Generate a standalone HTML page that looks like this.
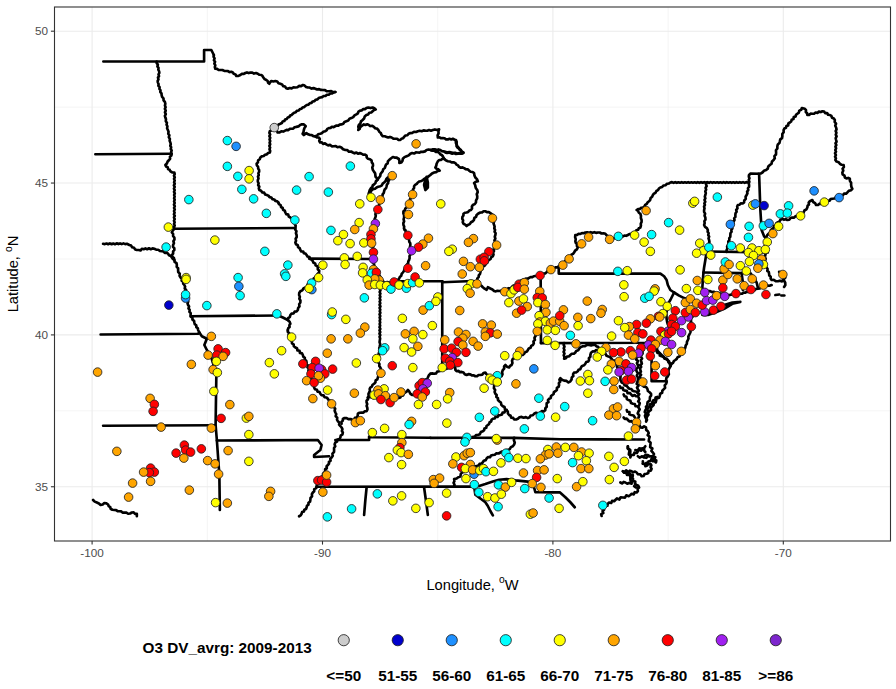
<!DOCTYPE html>
<html><head><meta charset="utf-8"><style>
html,body{margin:0;padding:0;background:#fff;}
svg{display:block;}
.mj{stroke:#EBEBEB;stroke-width:1.1;}
.mn{stroke:#EBEBEB;stroke-width:0.55;}
.st{fill:none;stroke:#000;stroke-width:2.65;stroke-linejoin:round;stroke-linecap:round;}
.pt{stroke:#222;stroke-width:0.85;}
text{font-family:"Liberation Sans",sans-serif;}
.tk{font-size:11.73px;fill:#4D4D4D;}
.ti{font-size:14.67px;fill:#000;}
.lt{font-size:15.3px;font-weight:bold;fill:#000;}
.ll{font-size:15.3px;font-weight:bold;fill:#000;}
</style></head><body>
<svg width="896" height="689" viewBox="0 0 896 689">
<line x1="207.3" y1="7.0" x2="207.3" y2="541.0" class="mn"/>
<line x1="437.7" y1="7.0" x2="437.7" y2="541.0" class="mn"/>
<line x1="668.1" y1="7.0" x2="668.1" y2="541.0" class="mn"/>
<line x1="54.5" y1="410.82" x2="890.5" y2="410.82" class="mn"/>
<line x1="54.5" y1="258.98" x2="890.5" y2="258.98" class="mn"/>
<line x1="54.5" y1="107.12" x2="890.5" y2="107.12" class="mn"/>
<line x1="92.1" y1="7.0" x2="92.1" y2="541.0" class="mj"/>
<line x1="322.5" y1="7.0" x2="322.5" y2="541.0" class="mj"/>
<line x1="552.9" y1="7.0" x2="552.9" y2="541.0" class="mj"/>
<line x1="783.3" y1="7.0" x2="783.3" y2="541.0" class="mj"/>
<line x1="54.5" y1="486.75" x2="890.5" y2="486.75" class="mj"/>
<line x1="54.5" y1="334.9" x2="890.5" y2="334.9" class="mj"/>
<line x1="54.5" y1="183.05" x2="890.5" y2="183.05" class="mj"/>
<line x1="54.5" y1="31.2" x2="890.5" y2="31.2" class="mj"/>
<polyline points="103.35,61.5 204.1,61.5 204.1,50 211.35,50 213.85,55" class="st"/>
<polyline points="213.85,55 213.57,56.77 214.59,58.4 213.94,60.21 215.06,61.82 214.34,63.64 215.29,65.28 214.83,67.07 215.35,68.75 217.09,68.87 218.59,69.97 220.35,70 222.41,69.97 224.31,70.93 226.35,71 228.04,71.08 229.53,72.05 231.3,71.82 232.85,72.5 233.83,73.86 235.5,74.51 236.35,76 238.45,75.89 240.35,75 241.85,73.91 243.79,73.94 245.35,73 246.98,72.43 248.73,73.14 250.35,72.5 252.27,72.56 254.02,73.58 256.04,73.08 257.85,73.75 259.45,74.79 261.35,75 262.56,76.08 263.35,77.5 264.6,79.05 266.35,80 267.65,81.01 268.09,82.71 269.35,83.75 270.15,82.23 271.35,81 273.35,81.46 275.35,81 277.25,81.48 278.47,83.21 280.35,83.75 282.1,84.38 283.12,86.1 285.04,86.47 286.09,88.13 287.85,88.75 289.65,88.01 291.65,88.42 293.41,87.43 295.35,87.5 297.37,87.3 298.99,85.93 301.12,86.06 302.85,85 304.64,85.6 306.06,86.92 307.85,87.5 309.77,87.54 311.53,88.56 313.53,88.1 315.35,88.75 317.15,89.53 319.15,89.1 320.93,89.94 322.85,90 325,90.09 326.92,91.29 329.1,91.25 331.23,91.09 333.23,92.07 335.35,92" class="st"/>
<polyline points="156.6,61.5 156.71,63.2 157.88,64.64 157.39,66.49 158.52,67.93 158.3,69.72 159.1,71.25 159.36,72.91 158.48,74.43 159.03,76.12 157.95,77.63 158.51,79.32 157.66,80.85 157.85,82.5 158.6,83.98 158.36,85.75 159.61,87.08 159.42,88.84 160.5,90.22 160.29,91.99 161.53,93.32 161.6,95 162.1,96.86 163.5,98.33 163.59,100.36 164.87,101.88 165.35,103.75 164.94,105.47 165.63,107.19 164.86,108.91 165.74,110.62 164.95,112.34 165.82,114.06 164.87,115.78 165.35,117.5 165.99,119.23 165.79,121.13 166.91,122.76 166.52,124.69 167.43,126.37 167.07,128.3 167.85,130 168.57,131.71 168.25,133.63 169.38,135.27 168.82,137.23 169.9,138.88 169.62,140.79 170.35,142.5 170.78,144.08 170.26,145.76 171.15,147.29 170.71,148.97 171.67,150.49 171.07,152.18 171.6,153.75 171.38,155.47 169.93,156.71 170.14,158.6 169.1,160 167.64,161.51 166.87,163.53 165.35,165 166.04,166.5 167.72,167.2 168.03,169 169.62,169.79 170.35,171.25 172.2,172.35 174.35,172.5 174.7,174.11 173.93,175.71 174.78,177.32 174.01,178.93 174.74,180.54 174.09,182.14 174.75,183.75 173.85,185.36 174.72,186.96 173.93,188.57 174.7,190.18 174,191.79 174.82,193.39 174.09,195 174.7,196.61 174.09,198.21 174.7,199.82 174.07,201.43 174.72,203.04 173.94,204.64 174.81,206.25 174.05,207.86 174.78,209.46 173.99,211.07 174.64,212.68 173.91,214.29 174.82,215.89 173.92,217.5 174.72,219.11 173.94,220.71 174.66,222.32 174.02,223.93 174.73,225.54 173.98,227.14 174.35,228.75" class="st"/>
<polyline points="95.35,154.25 171.6,153.75" class="st"/>
<polyline points="335.35,92 333.6,92.39 332.1,93.46 330.23,93.5 328.78,94.71 326.89,94.71 325.48,96.02 323.59,96.02 322.12,97.17 320.35,97.5 318.69,98.06 317.46,99.4 315.7,99.78 314.45,101.08 312.67,101.43 311.5,102.86 309.73,103.24 308.54,104.64 306.74,104.95 305.35,106 304.12,107.12 302.44,107.5 301.32,108.8 299.68,109.27 298.54,110.52 296.81,110.83 295.77,112.26 294.11,112.68 292.85,113.75 291.73,114.92 290.16,115.51 289.31,117.01 287.71,117.57 286.74,118.93 285.13,119.48 284.32,121.03 282.63,121.47 281.84,123.05 280.35,123.75 278.62,124.41 277.35,125.83 275.51,126.31 274.1,127.5" class="st"/>
<polyline points="274.1,127.5 272.46,128.49 271.57,130.34 269.85,131.25 269.36,132.88 270.18,134.52 269.36,136.15 270.24,137.79 269.54,139.42 270.22,141.06 269.59,142.69 270.2,144.33 269.36,145.96 270.12,147.6 269.47,149.23 270.17,150.87 269.85,152.5 268.09,152.99 266.8,154.39 264.95,154.71 263.64,156.06 261.77,156.37 260.35,157.5 259.75,159.26 258.11,160.4 257.94,162.43 256.6,163.75 256.9,165.44 258.09,166.78 258.17,168.56 259.1,170 259.16,171.7 258.36,173.29 258.77,175.04 257.96,176.63 258.51,178.39 257.85,180 257.84,181.71 258.65,183.29 258.13,185.07 259.32,186.6 258.8,188.38 259.35,190 261.05,190.71 262.13,192.33 264.11,192.6 265.08,194.4 266.85,195 268.47,195.66 269.56,197.13 271.35,197.52 272.34,199.15 274.2,199.44 275.33,200.85 277.08,201.3 278.35,202.5" class="st"/>
<polyline points="274.45,127.5 275.21,129.35 276.88,130.62 277.6,132.5 279.57,132.39 281.28,131.28 283.34,131.55 285.1,130.6 286.58,129.87 288.36,130.14 289.68,128.84 291.35,128.75 293.19,128.59 294.57,127.22 296.35,126.9 298.45,126.39 300.1,125 301.91,124.3 303.85,124.4 305.75,126.25 304.47,127.96 303.85,130 303.48,131.96 302.6,133.75 303.85,135 306.35,133.1 308.11,134.28 310.1,135 311.85,135.07 313.37,136.09 315.1,136.25" class="st"/>
<polyline points="315.1,136.25 316.94,135.77 318.25,134.21 320.1,133.75 321.9,133.19 323.27,131.77 325.1,131.25 326.56,130.45 327.34,128.84 328.85,128.1 330.52,128 331.85,126.76 333.65,127.11 335.1,126.25 336.58,125.52 338.31,125.6 339.7,124.58 341.35,124.4 343.27,123.75 344.44,121.92 346.35,121.25 348.25,120.57 349.47,118.81 351.35,118.1 353.2,117.11 354.51,115.4 356.35,114.4 357.87,113.39 358.52,111.54 360.1,110.6 361.85,110.43 363.09,109.02 364.93,109.08 366.35,108.1 368.39,107.46 370.55,108.06 372.6,107.5 374.34,108.18 375.75,109.4 373.95,109.94 372.6,111.25 371.24,112.53 369.26,112.77 368.13,114.43 366.35,115 364.75,116.4 364.1,118.52 362.6,120 360.97,121.38 360.35,123.52 358.85,125 358.27,126.62 358.71,128.36 358.25,130 359.59,129.01 360.1,127.32 361.35,126.25 363.85,124.4 365.47,125.03 367.24,124.33 368.85,125 370.36,126.05 372.31,125.93 373.85,126.9 375.14,128.23 377.07,128.64 378.35,130 379.24,131.73 380.81,132.97 381.51,134.84 382.85,136.25 384.77,136.3 386.6,136.9 388.22,137.52 389.98,136.89 391.6,137.5 393.32,138.58 395.35,138.75 397.12,138.74 398.57,140.03 400.35,140 401.4,138.72 403.11,138.25 404.1,136.9 405.42,135.55 407.39,135.27 408.6,133.74 410.35,133.1 412.29,132.89 414,131.76 416.05,132.01 417.85,131.25 419.7,130.8 421.62,131.19 423.45,130.42 425.35,130.6 427.24,130.7 429.07,129.97 431.01,130.65 432.85,130 434.9,129.43 437.05,129.94 439.1,129.4 438.45,131.25 438.57,133.36 437.62,135.38 437.85,137.5 439.56,137.37 441.14,138.27 442.85,138.1 444.6,138.21 446.07,139.41 447.85,139.4 449.46,138.77 451.24,139.42 452.85,138.75 454.64,139.71 455.95,141.25 455.87,142.95 456.73,144.54 456.6,146.25 457.62,147.73 459.1,148.75 460.82,149.93 461.76,151.89 463.45,153.1 461.62,153.66 459.68,153.23 457.85,153.75 455.94,154.01 454.13,153.1 452.19,153.65 450.35,153.1 448.72,152.59 446.98,153.02 445.35,152.5 443.83,151.37 441.89,151.08 440.35,150 438.51,149.45 436.57,150.07 434.75,149.25 432.85,149.4 430.8,149.96 428.66,149.52 426.6,150 424.94,151.38 422.85,151.9 421.14,151.74 419.55,152.58 417.85,152.5 415.9,152.38 414.17,153.54 412.15,152.96 410.35,153.75 408.72,155.37 406.6,156.25 404.46,157.11 402.85,158.75 402.5,160.79 401.35,162.5 399.35,163 399.44,160.96 398.85,159 396.35,157.5 394.55,157.6 392.85,157 390.85,158.5 389.1,160 387.89,161.4 387.64,163.37 386.04,164.54 385.35,166.25 384.78,168.03 383.18,169.2 382.77,171.08 381.6,172.5 380.5,174.03 380.23,175.98 379.1,177.5 377.25,180" class="st"/>
<polyline points="315.1,136.25 316.8,137.39 318.85,137.5 319.84,139.02 319.21,140.95 320.1,142.5 321.83,142.43 323.08,143.94 324.95,143.39 326.35,144.4 328.11,145.35 330.2,144.92 331.84,146.34 333.85,146.25 335.81,146.08 337.53,147.29 339.55,146.77 341.35,147.5 343.07,149.2 345.35,150 347.39,150.12 348.94,151.74 351.09,151.52 352.85,152.5 354.52,153.32 356.42,152.5 358.04,153.67 359.91,153.11 361.6,153.75 363.14,154.71 365.08,154.58 366.6,155.6 366.71,157.38 367.85,158.75 369.97,159.18 371.6,160.6 371.8,162.34 372.85,163.75 373.03,165.7 372.25,167.5 372.84,169.84 374.1,171.9 375.14,173.28 375.35,175 375.58,176.82 376.98,178.19 377.25,180" class="st"/>
<polyline points="377.25,180 375.89,181.24 375.41,183.12 374.1,184.4 372.75,185.38 372.3,187.12 370.95,188.1 369.72,190.17 369.1,192.5 368.45,194.4 369.22,192.96 370.69,192.03 371.35,190.5 372.91,189.17 375.03,188.81 376.6,187.5 378.41,186.67 380.35,186.25 381.87,185.27 382.69,183.59 384.1,182.5 385.64,181.05 386.37,178.99 387.85,177.5 389.75,176.25 391.6,175 390.56,176.57 390.21,178.47 389.1,180 388.24,181.47 388.12,183.23 386.94,184.57 386.6,186.25 386.07,188.07 384.68,189.46 384.1,191.25 383.76,192.93 382.61,194.28 382.5,196.05 381.6,197.5 380.8,199.07 381.11,200.92 380.35,202.5 379.27,204.04 378.9,205.94 377.85,207.5 376.86,209.03 376.84,210.93 375.95,212.5 375.4,214.12 375.8,215.86 375.35,217.5 374.62,219.09 374.76,220.89 374.1,222.5 373.37,223.98 373.39,225.69 372.44,227.11 372.25,228.75 372.8,230.84 372.85,233 372.57,234.93 373.46,236.78 372.83,238.72 373.61,240.58 373.45,242.5 373.09,244.27 373.59,246.09 372.85,247.84 373.32,249.65 372.7,251.41 373.26,253.23 372.85,255 372.58,256.88 373.13,258.75 372.49,260.62 372.85,262.5 374.01,264 374.24,265.97 375.35,267.5 376.38,268.86 376.59,270.63 377.9,271.85 378.03,273.66 379.1,275 380.12,276.57 380.42,278.51 381.6,280 383.01,281.09 384.1,282.5 385.77,282.71 387.43,282.1 389.1,282.5 391.23,282.32 393.21,281.39 395.35,281.25 397.34,280.18 399.1,278.75 399.8,277.04 401.25,275.79 401.64,273.9 402.85,272.5 403.96,271.04 404.42,269.19 405.96,267.99 406.6,266.25 406.9,264.56 408.14,263.24 408.28,261.48 409.1,260 409.62,258.16 409.5,256.21 410.41,254.44 410.35,252.5 410.15,250.62 410.73,248.75 409.97,246.88 410.35,245 410.24,243.26 409.25,241.73 409.1,240 408.92,238.27 407.95,236.75 407.85,235 407.34,233.17 405.89,231.81 405.35,230 404.75,230" class="st"/>
<polyline points="444.1,158.75 442.37,158.91 440.86,159.97 439.1,160 437.63,161.73 436.6,163.75 436.27,165.72 435.35,167.5 436.62,168.81 438.43,169.36 439.75,170.6 437.78,170.96 436.07,172.12 434.1,172.5 432.01,173.43 430.35,175 427.85,176.9 426.33,178.17 424.41,178.79 422.85,180 421.28,181.02 419.4,181.44 417.85,182.5 416.74,183.89 415.16,184.81 414.1,186.25 414.05,188.01 413,189.52 412.85,191.25 412.67,192.97 411.68,194.5 411.6,196.25 411.22,197.91 410.03,199.25 409.99,201.04 409.1,202.5 407.97,204.02 407.73,205.98 406.6,207.5 405.33,208.56 404.8,210.25 403.45,211.25 403.39,213.36 404.1,215.39 404.1,217.5 403.61,219.35 404.14,221.28 403.35,223.1 403.45,225 404.2,226.59 403.96,228.43 404.75,230" class="st"/>
<polyline points="426.6,176.9 427.85,182.5 427.85,187.5 425.35,190 424.1,185 425.35,178.75 426.6,176.9" class="st" style="fill:#000"/>
<polyline points="430.35,150 432.18,150.67 434.19,150.6 435.88,151.81 437.85,151.9 439.24,152.83 440.2,154.25 441.73,155.01 442.85,156.25 444.1,158.75" class="st"/>
<polyline points="445.35,151.9 447.4,152.42 449.55,151.96 451.6,152.5 453.31,153.01 455.14,152.75 456.81,153.52 458.64,153.19 460.35,153.75 461.98,153.32 463.45,152.5 461.49,151.42 459.75,150 458.83,147.9 457.25,146.25 456.58,144.22 456.67,142.02 455.95,140" class="st"/>
<polyline points="444.1,158.75 445.77,160.31 447.85,161.25 449.79,161.46 451.54,162.42 453.57,162.26 455.35,163.1 456.39,164.58 458.09,165.4 459.1,166.9 460.66,167.74 462.51,167.4 464.1,168.1 465.64,169.19 467.65,169.33 469.1,170.6 470.62,171.72 472.57,171.99 474.1,173.1 474.42,175.39 475.35,177.5 476.92,179.16 477.85,181.25 475.78,181.78 474.1,183.1 474.98,184.58 475.35,186.25 475.96,188.3 477.25,190 477.75,192.08 476.76,194.17 477.25,196.25 477.17,198.41 476.05,200.35 475.95,202.5 474.66,204.07 472.85,205 471.89,206.54 472.03,208.5 470.95,210 469.32,210.52 468.18,211.9 466.6,212.5 464.87,212.73 463.45,213.75 463.43,215.51 462.39,217.02 462.25,218.75 463.13,220.3 462.73,222.16 463.45,223.75 465.2,224.64 466.6,226 467.85,225 469.8,224.13 471,222.25 472.85,221.25 474.01,219.82 474.33,217.89 476.06,216.8 476.6,215 478.32,213.52 480.35,212.5 482.1,212.42 483.59,211.3 485.35,211.25 486.92,212.13 488.85,212.03 490.35,213.1 492.85,215 492.73,216.71 493.63,218.29 493.22,220.03 494.1,221.61 493.52,223.38 494.1,225 494.64,226.62 494.27,228.36 495.06,229.96 494.58,231.71 495.63,233.27 495.35,235 494.78,236.75 495.37,238.61 494.43,240.32 495.08,242.19 494.06,243.89 494.54,245.74 494.1,247.5 493.6,249.21 494.01,251.06 492.97,252.7 493.54,254.56 492.85,256.25 491.27,257.17 490.56,258.96 489.1,260 487.79,261.03 487.34,262.77 485.69,263.52 485.18,265.21 483.58,265.99 482.85,267.5 482.26,269.29 480.8,270.64 480.35,272.5 479.91,274.1 478.76,275.39 478.61,277.12 477.33,278.34 477.4,280.17 476.35,281.5" class="st"/>
<polyline points="399.1,281.25 442.35,281.25 442.35,282.25 472.85,281 476.35,281.5" class="st"/>
<polyline points="476.35,281.5 477.85,283.5 479.36,284.96 481.38,285.74 482.85,287.25 484.6,288.68 486.6,289.75 487.85,287.25 490.35,288.5 492.42,289.45 494.1,291 495.77,291.38 497.43,290.71 499.1,291 501.24,290.85 503.21,289.88 505.35,289.75 507.01,289.36 508.35,288.2 510.18,288.24 511.6,287.25 513.1,285.78 515.17,285.07 516.6,283.5 517.98,282.25 519.88,281.88 521.14,280.44 522.85,279.75 524.51,279.63 525.92,278.63 527.65,278.73 529.1,277.9 530.57,277.12 532.29,277.17 533.72,276.25 535.35,276 537.04,276.01 538.64,275.26 540.35,275.4 542.02,274.83 543.37,273.61 545.19,273.34 546.6,272.25 547.84,271.01 549.66,270.66 550.8,269.27 552.35,268.5 554.03,268.35 555.47,267.3 557.21,267.36 558.65,266.33 560.35,266.25 561.76,265.16 562.63,263.53 564.3,262.7 565.11,261.01 566.87,260.27 567.68,258.58 569.1,257.5 570.62,256.52 571.37,254.77 573.02,253.92 574.1,252.5 575.12,250.66 576.86,249.36 577.85,247.5 576.92,246.06 576.94,244.24 575.77,242.89 575.35,241.25 575.74,239.17 575.11,237.08 575.35,235 577.07,234.82 578.59,233.81 580.4,233.96 581.96,233.11 583.77,233.26 585.35,232.5 587.14,232.26 588.92,232.85 590.71,232.19 592.49,232.71 594.28,232.19 596.06,232.83 597.85,232.5 599.77,232.52 601.54,233.5 603.51,233.21 605.35,233.75 606.45,235.15 608.02,236.08 608.92,237.68 610.35,238.75 612.17,238.12 614.14,238.34 615.92,237.47 617.85,237.5 619.59,237.39 621.13,236.47 622.9,236.46 624.45,235.56 626.28,235.8 627.85,235 629.32,234.15 631.07,233.98 632.42,232.82 634.1,232.5 635.57,231.77 636.38,230.22 638.08,229.78 638.89,228.24 640.35,227.5 640.92,225.67 640.76,223.71 641.58,221.92 641.6,220 640.87,217.98 640.97,215.79 640.35,213.75 638.86,212.74 638.1,211 636.6,210 638.05,209.09 639.82,208.99 641.17,207.82 642.85,207.5 644.36,206.51 645.2,204.85 646.77,203.92 647.62,202.27 649.1,201.25 650.24,199.81 650.65,197.93 652.15,196.7 652.85,195 653.93,193.58 655.56,192.71 656.37,191.02 658.01,190.16 658.88,188.53 660.35,187.5 662.16,186.94 663.54,185.55 665.45,185.2 666.85,183.83 668.78,183.53 670.35,182.5 671.96,182.1 673.58,182.84 675.19,182.19 676.81,182.81 678.42,182.23 680.04,182.71 681.65,182.2 683.27,182.74 684.88,182.27 686.5,182.72 688.11,182.17 689.73,182.71 691.34,182.29 692.95,182.75 694.57,182.25 696.18,182.83 697.8,182.2 699.41,182.8 701.03,182.2 702.64,182.75 704.26,182.14 705.87,182.71 707.49,182.18 709.1,182.84 710.71,182.14 712.33,182.84 713.94,182.23 715.56,182.74 717.17,182.26 718.79,182.82 720.4,182.21 722.02,182.87 723.63,182.12 725.25,182.82 726.86,182.19 728.48,182.77 730.09,182.28 731.7,182.81 733.32,182.23 734.93,182.81 736.55,182.18 738.16,182.7 739.78,182.2 741.39,182.77 743.01,182.11 744.62,182.84 746.24,182.16 747.85,182.5" class="st"/>
<polyline points="558.75,268 558.75,273.6 660.35,273.6 664.1,276.25 666.6,280 667.85,285 670.35,290 674.1,292.5 679.1,295.6 684.1,298.1 690.35,300 696.35,302 702.85,303" class="st"/>
<polyline points="674.1,292.5 672.85,295 670.35,300 668.45,303.1 667.35,308 666.35,313 666.6,318.75 667.25,322.5 669.1,327.5 665.35,335 660.35,340 655.35,345" class="st"/>
<polyline points="706.6,182.5 705.99,184.24 706.68,186.12 705.6,187.81 706.14,189.67 705.29,191.39 705.83,193.24 705.35,195 704.8,196.63 705.39,198.36 704.48,199.96 705.28,201.71 704.33,203.31 704.93,205.03 704.01,206.64 704.53,208.36 704.1,210 704.12,211.92 705.11,213.69 704.58,215.7 705.35,217.5 705.46,219.45 704.38,221.19 704.69,223.17 704.1,225 705.06,226.88 706.88,228.12 707.85,230 707.63,231.72 708.66,233.28 708.22,235.03 709.16,236.61 708.5,238.38 709.1,240 709.41,242 708.8,244 709.1,246 709.23,247.88 708.15,249.6 708.35,251.5" class="st"/>
<polyline points="749.1,175 748.82,176.67 749.47,178.33 748.72,180 749.37,181.67 748.75,183.33 749.1,185 749.07,186.76 747.95,188.26 748.31,190.12 747.09,191.58 747.45,193.44 746.6,195 745.59,196.75 745.77,198.89 744.26,200.47 744.1,202.5 742.7,203.53 740.79,203.29 739.57,204.76 737.85,205 737.17,206.6 737.49,208.45 736.18,209.89 736.66,211.79 735.52,213.27 735.35,215 735.41,216.79 734.17,218.25 734.53,220.11 733.36,221.59 733.59,223.41 732.85,225 732.13,226.59 732.38,228.42 731.33,229.93 731.59,231.77 730.44,233.25 730.35,235 730.3,236.76 729.25,238.27 729.38,240.07 728.26,241.56 728.55,243.4 727.85,245 727.1,246.58 727.43,248.44 726.6,250 726.6,252" class="st"/>
<polyline points="749.1,175 750.35,173.5 759.1,173.75 760.35,210 761.6,230 764.1,236.25 767.85,240" class="st"/>
<polyline points="707.85,251.5 767.85,252.5" class="st"/>
<polyline points="758.6,173.75 760.61,173.52 762.35,172.5 763.91,170.78 766.1,170 767.77,168.65 768.26,166.41 769.85,165 771.55,163.67 771.98,161.39 773.6,160 774.79,158.31 774.37,156.09 775.96,154.54 776.1,152.5 775.96,150.31 777.36,148.42 777.35,146.25 777.84,144.41 779.38,143.1 779.85,141.25 780.28,139.38 781.98,138.15 782.35,136.25 782.31,134.08 783.64,132.17 783.6,130 784.37,128.52 786.05,127.8 786.36,125.95 788.22,125.38 788.37,123.38 789.85,122.5 791.19,121.48 791.65,119.71 793.47,119.1 793.69,117.11 795.56,116.55 796.03,114.78 797.35,113.75 798.88,112.63 799.26,110.61 801.19,109.8 801.85,108 804.85,108.75 806.02,110.1 805.77,112.01 807.09,113.29 807.35,115 809.09,114.89 810.56,113.66 812.35,113.75 814.1,113.67 815.58,112.51 817.45,112.91 818.9,111.6 820.78,112.07 822.35,111.25 824.09,111.53 825.15,113.14 827.09,113.02 828.09,114.77 829.85,115 831.39,115.96 832.07,117.78 833.84,118.51 834.85,120 834.68,121.95 836.04,123.66 835.23,125.72 836.1,127.5 836.55,129.29 835.64,131.07 836.42,132.86 835.75,134.64 836.6,136.43 835.69,138.21 836.1,140 836.56,141.69 835.5,143.32 836.34,145.02 835.42,146.65 836.09,148.34 835.29,149.98 836.03,151.68 835.03,153.31 835.92,155.01 835.05,156.65 835.94,158.35 835.35,160 836.59,161.57 838.62,162.18 839.85,163.75 841.59,164.78 843.6,165 843.88,166.97 842.59,168.69 843.25,170.72 842.35,172.5 842.65,174.43 844.47,175.61 844.85,177.5 846.41,178.36 848.29,177.93 849.85,178.75 849.9,180.91 851.13,182.83 851.1,185 851.43,186.97 852.35,188.75 850.91,190.3 848.75,190.9 847.35,192.5 846.06,193.66 844.09,193.48 843.05,195.15 841.13,195.07 839.85,196.25 838.13,197.34 835.98,197.14 834.36,198.52 832.35,198.75 830.64,199.09 829.54,200.64 827.71,200.72 826.6,202.24 824.85,202.5 823.02,202.71 821.45,203.86 819.5,203.64 817.98,204.95 816.1,205 815.09,203.15 813.16,202 812.35,200 809.85,201.25 808.67,202.59 808.98,204.53 807.61,205.79 807.35,207.5 806.4,209.39 804.43,210.52 803.6,212.5 802.28,213.85 800.21,213.94 799.19,215.78 797.35,216.25 795.55,216.15 794.14,217.58 792.35,217.5 790.55,218.06 789.28,219.69 787.35,220 785.81,219.08 783.89,219.69 782.35,218.75 780.48,219.73 779.33,221.67 777.35,222.5 776.09,223.54 775.81,225.36 773.92,225.9 773.62,227.72 772.35,228.75 770.73,230.14 770.24,232.38 768.6,233.75 767.07,235.44 766.1,237.5 766.14,239.28 764.95,240.75 764.85,242.5 765.34,244.35 764.64,246.28 765.77,248.09 765.35,250 764.98,251.67 765.71,253.33 765.35,255 764.93,256.88 765.66,258.75 765.05,260.62 765.35,262.5 766.22,264.05 765.78,265.93 766.6,267.5 767.6,268.91 767.3,270.85 768.79,272.06 769.1,273.75 769.25,275.5 770.69,276.74 770.63,278.58 771.6,280 773.78,279.93 775.71,281.14 777.85,281.25 779.89,280.65 782.07,281.37 784.1,280.6 785.22,282.66 785.35,285 784.1,286.9" class="st"/>
<polyline points="782.85,280 785.35,277.5 784.1,272.5 779.1,271.9" class="st"/>
<polyline points="706.6,251.9 705.35,260 704.1,267.5 703.45,272.5 702.25,288.75" class="st"/>
<polyline points="703.45,272.5 741.6,273.1 742.85,282.5 742.85,290" class="st"/>
<polyline points="741.6,273.1 750.35,273.1 752.85,276.25 756.6,282.5 757.85,287.5" class="st"/>
<polyline points="702.25,288.75 703.7,289.51 705.38,289.67 706.69,290.8 708.35,291 710.16,291.11 711.81,291.95 713.67,291.79 715.35,292.5 717.1,293.05 719,292.83 720.64,293.92 722.57,293.56 724.2,294.66 726.11,294.42 727.85,295 729.66,295.03 731.4,294.43 733.23,294.71 734.96,293.91 736.82,294.5 738.54,293.73 740.35,293.75 742.1,293.68 743.6,292.58 745.4,292.71 746.92,291.71 748.75,291.93 750.35,291.25 752.1,290.25 754.22,290.37 755.86,289.02 757.85,288.75 759.85,288.5 761.5,287.21 763.58,287.18 765.35,286.25 767.36,285.47 769.58,285.75 771.6,285" class="st"/>
<polyline points="775.35,295 779.35,294.5" class="st"/>
<polyline points="781.35,295.5 784.35,295.5" class="st"/>
<polyline points="740.35,301.9 732.35,302.5 724.1,305 715.35,309 707.85,312.5 702.35,315 707.85,315 715.35,312.5 724.1,308.75 732.35,303.75 740.35,301.9" class="st"/>
<polyline points="696.35,310 695.01,311.39 694.59,313.35 693.02,314.59 692.68,316.61 691.35,318 690.82,319.71 691.16,321.54 690.4,323.22 690.35,325 690.68,326.88 690.14,328.75 690.61,330.62 690.35,332.5 689.1,335 688.31,336.57 688.5,338.39 687.85,340 686.96,341.79 686.86,343.84 685.69,345.53 685.35,347.5 684.65,349.2 683.05,350.3 682.61,352.18 681.17,353.38 680.35,355 679.37,356.52 677.57,357.22 676.75,358.9 675.35,360 673.85,361 673.13,362.78 671.6,363.75" class="st"/>
<polyline points="540.95,343.1 645.35,342.8 650.35,341 653.35,342 656.6,345" class="st"/>
<polyline points="651.6,353.75 651.6,381.25 666.6,381.25" class="st"/>
<polyline points="656.6,345 656.2,347.08 657.2,349.17 656.6,351.25 657.45,352.9 659.61,353.24 659.81,355.54 661.6,356.25 663.45,356.71 664.47,358.56 666.65,358.46 667.85,360 668.47,362.3 670.35,363.75 670.76,365.74 669.75,367.5 668.6,369.61 668.45,372 668.89,374.23 667.85,376.25 666.39,377.85 666.1,380 666.71,381.88 666.1,383.75 664.68,385.37 665.14,387.83 663.6,389.4 662.28,390.72 662.19,392.78 660.15,393.67 659.85,395.6 659.17,397.69 656.72,398.46 656.1,400.6 655.62,402.32 653.69,403.07 653.64,405.07 652.35,406.25 650.89,407.65 650.91,409.97 649.25,411.25 647.89,412.64 648.52,414.79 647.35,416.25 646.39,417.87 647,419.87 646.1,421.5 646.46,419.39 645.45,417.5 644.95,415.62 646.04,413.75 644.73,411.88 645.45,410 646.46,408.6 645.95,406.74 647.41,405.48 647.35,403.75 647.7,401.84 649.71,400.76 649.85,398.75 649.97,396.97 651.1,395.6 651.09,393.8 649.85,392.5 647.96,391.05 647.35,388.75 646.1,386.95 643.73,386.64 642.35,385 642.56,383.05 640.69,381.69 641.43,379.59 640.35,378 639.91,376.4 641.15,374.8 639.59,373.2 640.96,371.6 640.35,370 640.04,368.34 641.19,366.86 640.19,365.11 641.89,363.69 641.35,362 640.87,360.23 642.11,358.52 640.8,356.72 641.6,355 642.6,353.48 642.36,351.52 643.35,350" class="st"/>
<polyline points="657.35,396.9 655.54,397.59 655.35,399.9 653.25,400.3 652.35,401.9 652.02,403.71 649.99,404.38 649.9,406.34 648.6,407.5 647.3,409.14 647.87,411.4 646.75,413.1" class="st"/>
<polyline points="643.35,350 641.36,350.26 640.35,352 639.84,353.67 638,354.43 638.25,356.61 636.6,357.5 636.1,359.51 638.06,361.11 636.88,363.23 637.85,365 638.27,367.25 636.07,368.98 636.6,371.25 637.9,373.16 636.81,375.54 637.85,377.5 638.14,379.76 637.35,381.9 636.61,383.85 638.53,385.58 636.99,387.59 637.95,389.4 638.89,390.95 637.36,392.71 639.3,394.18 637.93,395.92 638.6,397.5 639.34,399.32 638.14,401.32 639.79,403.06 639.25,405 638.1,406.99 639.7,409.26 638.6,411.25 637.68,413.33 639.25,415.42 638.6,417.5 637.29,419.13 638.45,421.32 637.35,423 637.63,424.98 639.8,425.7 640.35,427.5 642.48,427.63 644.1,426.25 645.97,427.45 646.18,429.9 647.85,431.25 648.74,433.03 647.64,435.14 649.73,436.72 649.1,438.75 648.75,440.99 650.61,442.78 650.35,445 650.14,447.15 652.39,448.49 651.35,450.92 652.85,452.5 654.02,453.96 652.94,456.13 655.34,457.21 654.04,459.44 656.31,460.56 655.95,462.5 654.7,461.14 652.85,461.25 651.82,459.74 652.6,457.77 651.6,456.25 649.5,456.3 647.85,455 645.72,454.85 644.1,456.25" class="st"/>
<polyline points="619.85,386.25 620.56,387.96 622.78,387.93 623.26,389.91 624.85,390.6 626.85,390.84 627.54,393.21 629.84,392.95 631.1,394.4 632.42,395.95 634.67,395.01 636.1,396.25" class="st"/>
<polyline points="623.6,394.4 624.44,396.16 626.51,396.83 626.83,399.06 628.6,400 630.44,400.8 631.03,403.04 632.95,403.75 634.75,403.99 635.47,406.15 637.35,406.25" class="st"/>
<polyline points="626.75,410 627.23,411.78 629.49,412.01 629.3,414.37 631.1,415 633.52,415.43 634.85,417.5" class="st"/>
<polyline points="623.6,417.5 624.78,418.81 626.77,418.69 627.95,420 629.3,421.46 631.55,421.14 632.95,422.5 634.92,423.93 637.35,424" class="st"/>
<polyline points="656.6,350 660.35,353.75 665.35,358.75 669.1,361.25 670.35,366.25 671.6,363.75" class="st"/>
<polyline points="540.65,275.5 540.95,343.1" class="st"/>
<polyline points="540.95,316 539.88,317.64 540.45,319.76 538.84,321.24 539.3,323.32 538.35,325 537.38,326.62 537.84,328.64 536.5,330.15 536.35,332 536.42,334.26 535.35,336.25 534.45,337.89 534.89,339.9 533.44,341.38 533.83,343.39 532.85,345 531.21,345.86 530.58,347.73 528.79,348.44 527.85,350 526.92,351.57 525.07,352.22 524.1,353.75 522.74,354.88 520.86,354.72 519.62,356.13 517.85,356.25 515.97,356.65 514.7,358.29 512.85,358.75 512.01,360.75 512.45,363 511.6,365 510.04,365.94 509.1,367.5 506.92,366.71 505.35,365 504.1,366.46 504.21,368.6 502.85,370 502.09,372.01 502.49,374.26 501.6,376.25 499.26,376.59 497.35,378 495.56,378.41 493.88,377.28 492.07,378.08 490.35,377.5 489.43,375.92 487.85,375 486.34,374.01 485.35,372.5 483.49,372.95 482.26,374.66 480.35,375 478.58,375.01 477.1,376.15 475.35,376.25 473.81,375.3 471.87,375.41 470.35,374.4 468.39,374.19 466.6,375 464.75,374.25 463.49,372.57 461.6,371.9 459.88,372.08 458.34,370.89 456.6,371.25 455.34,369.8 455.31,367.73 454.1,366.25 452.34,367.35 450.17,367.1 448.35,368 446.44,368.86 444.21,368.42 442.35,369.5 440.9,370.7 439.1,371.25 437.21,371.63 436.02,373.42 434.1,373.75 432.23,373.41 430.35,373.75" class="st"/>
<polyline points="493.35,380 493.24,382.13 494.27,384.12 494.1,386.25 493.91,388.21 495.16,389.93 494.63,391.94 495.35,393.75 496.69,394.96 496.32,397.01 497.92,398.09 497.93,399.96 499.1,401.25 500.86,402.53 501.3,404.81 502.85,406.25 504.55,407.05 504.91,409.19 506.6,410 507.78,411.49 507.93,413.5 509.1,415 510.62,415.79 511.16,417.69 513.18,417.92 514.1,419.4 516.05,419.49 517.85,418.75 519.46,417.29 521.6,416.9 523.61,417.7 525.87,417.16 527.85,418.1 529.62,417.31 530.67,415.48 532.83,415.26 534.1,413.75 536.07,412.78 538.4,413.59 540.35,412.5 541.76,411.15 543.97,411.41 545.35,410 545.33,408.22 546.77,406.81 546.6,405 546.69,403.22 548.48,402.13 547.95,400.1 549.1,398.75 550.71,397.96 550.98,396 552.35,395 553.66,394 553.83,392.08 555.35,391.25 556.85,390.02 556.88,387.92 558.56,386.8 559.1,385 558.82,383.17 560.21,381.64 559.43,379.72 560.35,378.1 561.98,379.72 564.1,380.6 566.55,380.93 568.45,382.5 570.35,381.28 571.6,379.4 571.74,377.5 573.31,376.11 573.11,374.09 574.1,372.5 576.13,372.33 577.85,371.25 578.51,369.69 580.4,369.15 580.95,367.5 582.12,365.91 584.13,365.29 585.35,363.75 586.19,362.09 588.16,361.56 589.1,360 588.85,358.17 590.38,356.78 590.35,355 591.03,352.74 592.85,351.25 594.67,351.46 596.09,350.05 597.85,350 599.31,351.17 601.34,350.93 602.85,352" class="st"/>
<polyline points="564.1,343.1 563.66,344.84 564.5,346.58 563.7,348.32 564.47,350.06 563.56,351.79 564.51,353.53 563.69,355.27 564.43,357.01 564.1,358.75 565.89,358.19 567,356.5 569.07,356.4 570.35,355 571.81,353.75 573.9,353.77 575.35,352.5 576.28,350.93 578.18,350.33 579.1,348.75 580.74,347.15 582.85,346.25 585.01,346.2 586.92,344.94 589.1,345 591.18,345.37 593.27,344.69 595.35,345 596.32,346.35 598.09,346.7 598.87,348.28 600.35,349 601.92,350.23 602.85,352 603.77,353.45 605.55,353.88 606.27,355.57 607.85,356.25 610.03,357.04 611.6,358.75 612.51,360.22 614.47,360.49 615.35,362 615.74,363.77 617.22,365.02 617.07,367.05 618.63,368.27 619.1,370 618.86,371.68 620.18,373.11 619.45,374.86 620.59,376.32 620.35,378 620.5,380.42 621.75,382.5 623.62,383.35 624.65,385.25 626.7,385.88 627.95,387.5 629.34,388.74 631.32,389.01 632.49,390.63 634.25,391.25 635.97,391.47 637.35,392.5" class="st"/>
<polyline points="506.6,410 505.1,410.68 504.45,412.44 502.56,412.64 501.97,414.47 500.35,415 498.67,415.39 497.55,416.91 495.6,416.74 494.58,418.46 492.85,418.75 491.55,419.76 491.19,421.53 489.61,422.3 489.11,423.96 487.85,425 486.5,425.97 486.29,427.85 484.43,428.41 484.09,430.2 482.85,431.25 480.86,432.07 479.87,434.22 477.85,435 476.06,435.16 474.85,436.67 473.01,436.71 471.6,437.75" class="st"/>
<polyline points="430.35,437.8 471.6,437.75 514.1,437.9 560.35,439.2 600.35,439.4 644.1,439.5" class="st"/>
<polyline points="514.1,437.9 513.88,440.28 514.75,442.5 514.14,444.55 512.85,446.25 510.9,447.12 509.78,449.09 507.85,450 505.81,450.14 504.27,451.76 502.1,451.49 500.35,452.5 498.59,453.47 496.44,453.28 494.83,454.69 492.85,455 491.09,455.52 490.01,457.26 487.89,457.14 486.6,458.5 485.74,460.14 483.77,460.67 482.85,462.25 481.48,463.51 479.56,463.86 478.45,465.54 476.6,466 474.76,466.4 473.44,467.9 471.48,468.06 470.14,469.48 468.35,470 466.39,470.45 464.81,471.82 462.85,472.25 460.95,473.5 460.35,476.6 458.29,477.19 456.6,478.5 454.1,479.1 454.47,480.98 453.58,482.85 454.54,484.73 454.1,486.6" class="st"/>
<polyline points="454.1,486.6 471.6,486.6 479.1,486 485.35,484.1 492.85,481.6 499.1,479.75 506.6,479.1 515.35,480.4 527.85,481.6 532.85,482.9 535.35,492.25 540.35,492.25 552.35,492.4 559.75,492.25 565.35,497.25 570.35,502.25 574.75,507.25" class="st"/>
<polyline points="474.35,488 475.35,494.75 480.35,498.5 485.35,502.25 487.85,506 490.35,511 492.85,515.4" class="st"/>
<polyline points="430.35,373.75 428.74,375.39 427.85,377.5 426.98,379.13 425.06,379.71 424.4,381.55 422.48,382.13 422.01,384.16 420.35,385 419.24,386.22 419.15,388.03 417.67,389.04 417.58,390.84 416.35,392 414.88,393.24 414.1,395 412.08,394.82 410.35,393.75 409.37,391.7 407.85,390 406.82,391.47 405.35,392.5 403.87,393.52 403.2,395.35 401.19,395.84 400.35,397.5 398.77,397.94 397.12,397.15 395.57,398.18 393.92,397.38 392.35,398 390.45,398.03 389,396.47 387.01,396.83 385.35,396 383.47,396.05 381.95,397.37 379.98,397.07 378.35,398 376.63,398.29 375.01,397.23 373.26,398.01 371.6,397.5 369.73,397.08 367.85,397.5 368.01,399.31 366.55,400.72 366.6,402.5 367.24,404.11 366.61,405.89 367.25,407.5 367.47,409.47 366.6,411.25 364.84,411.28 363.41,412.65 361.6,412.5 359.58,412.7 357.85,413.75 357.69,415.78 356.6,417.5 354.9,417.85 354,419.56 352.35,420 350.56,418.99 348.38,419.16 346.6,418.1 344.59,418.01 342.85,419 342.8,420.68 341.47,422.02 341.6,423.75" class="st"/>
<polyline points="380.1,284 379.83,285.6 380.53,287.2 379.77,288.8 380.44,290.4 379.61,292 380.41,293.6 379.72,295.2 380.37,296.8 379.65,298.4 380.44,300 379.63,301.6 380.32,303.2 379.52,304.8 380.47,306.4 379.57,308 380.3,309.6 379.72,311.2 380.36,312.8 379.52,314.4 380.3,316 379.63,317.6 380.25,319.2 379.69,320.8 380.21,322.4 379.66,324 380.17,325.6 379.46,327.2 380.35,328.8 379.47,330.4 380.28,332 379.42,333.6 380.28,335.2 379.52,336.8 380.17,338.4 379.85,340 379.54,342.08 380.2,344.17 379.75,346.25 379.23,348.3 379.66,350.45 379.1,352.5 378.59,354.14 379.26,355.86 378.44,357.48 379.08,359.19 378.24,360.81 378.45,362.5 379.44,364.03 379.26,366.01 380.35,367.5 380.85,369.17 380.05,370.83 380.35,372.5 379.81,374.31 378.44,375.71 377.85,377.5 377.34,379.32 375.63,380.42 375.43,382.42 374.1,383.75 372.59,384.74 371.87,386.52 370.35,387.5 369.67,389.1 369.96,390.94 369.1,392.5 368.44,394.11 368.68,395.94 367.85,397.5" class="st"/>
<polyline points="287.85,330 287.74,331.8 289.17,333.21 288.49,335.15 290.15,336.51 289.28,338.5 290.35,340 291.89,341.14 291.95,343.26 293.64,344.3 293.85,346.33 295.35,347.5 297.06,348.29 297.43,350.42 299.54,350.81 299.93,352.92 302,353.35 302.85,355 303.27,356.67 304.84,357.75 304.73,359.68 306.25,360.8 306.6,362.5 306.56,364.21 308.1,365.46 307.47,367.35 308.88,368.63 308.39,370.48 310.03,371.69 309.54,373.54 310.35,375 311.16,376.46 310.86,378.25 312.25,379.54 311.64,381.42 313.19,382.66 312.81,384.48 314.13,385.79 314.1,387.5 314.94,389.16 316.9,389.7 317.49,391.61 319.56,392.04 320.35,393.75 321.53,395.23 323.63,395.32 324.55,397.21 326.55,397.45 327.85,398.75 328.79,400.31 330.76,400.84 331.16,402.94 333.31,403.29 334.1,405 333.81,406.98 335.18,408.67 334.67,410.69 335.35,412.5 336.22,414.14 335.68,416.19 337.25,417.63 336.99,419.6 337.85,421.25 339.26,422.53 339.11,424.63 340.35,426 341.6,427.5 342.44,429.06 341.88,430.97 342.85,432.5 342.44,434.38 340.74,435.61 340.35,437.5 339.53,439.18 337.39,439.54 337.01,441.66 335.35,442.5 334.64,444.31 335.26,446.34 334.04,448.06 334.1,450 334.04,452.06 332.4,453.6 332.77,455.81 331.6,457.5 330.3,458.73 330.6,460.75 328.91,461.78 329.01,463.71 327.85,465 326.59,466.25 326.84,468.25 325.12,469.26 325.17,471.16 324.1,472.5 322.98,473.82 323.19,475.8 321.51,476.83 321.65,478.77 320.35,480 318.92,481.27 318.98,483.43 317.22,484.49 316.6,486.25 316.2,488.14 314.23,489.08 314.2,491.18 312.85,492.5 311.87,494.26 312.03,496.39 310.53,497.98 310.35,500 310.04,501.72 308.44,502.79 308.47,504.68 306.96,505.8 306.6,507.5 306.03,509.09 304.29,509.75 303.94,511.52 302.11,512.1 301.6,513.75 300.69,515.34 299.1,516.25" class="st"/>
<polyline points="335.35,440 369.1,440 369.1,436.5 372.85,437.2 430.35,437.8" class="st"/>
<polyline points="216.85,440.5 317.85,440 321.6,445 320.35,450 314.1,455 314.1,457 329.1,456.25" class="st"/>
<polyline points="316.6,486.75 454.1,486.6" class="st"/>
<polyline points="366.6,487.5 365.35,500 364.1,515" class="st"/>
<polyline points="424.1,487.5 425.85,500 427.85,515" class="st"/>
<polyline points="100.6,334.5 198.1,333.75 199.35,332.5 201.85,336.25 206.85,338.75 204.35,345 206.85,350 210.6,355 214.35,367.5 216.35,375 215.6,425 216.85,440 219.35,475 219.85,510" class="st"/>
<polyline points="103.1,425.75 214.35,425.3" class="st"/>
<polyline points="174.35,228.75 295.35,228" class="st"/>
<polyline points="103.1,243.75 104.8,244.13 106.49,243.46 108.19,244.18 109.89,243.37 111.58,244.22 113.28,243.48 114.97,244.21 116.67,243.32 118.37,244.08 120.06,243.44 121.76,244.1 123.46,243.38 125.15,244.12 126.85,243.75 129.35,245 131.12,245.6 132.15,247.29 134.01,247.76 135.09,249.38 136.85,250 138.76,249.99 140.6,250.5 141.85,248.75 143.64,249.18 145.42,248.44 147.21,249.22 148.99,248.3 150.78,249.21 152.56,248.4 154.35,248.75 156.14,249.64 158.19,249.74 159.87,250.95 161.85,251.25 163.56,251.5 164.81,252.91 166.72,252.66 168.1,253.75 169.04,255.31 170.8,256.05 171.85,257.5 172.89,258.96 174.35,260" class="st"/>
<polyline points="174.35,228.75 172.84,230.45 171.85,232.5 173.1,233.96 173.1,236.04 174.35,237.5 174.48,239.45 173.38,241.19 173.93,243.21 173.1,245 173.01,246.79 174.29,248.24 174.35,250 173.09,251.45 173.14,253.56 171.85,255 172.4,256.81 173.93,258.12 174.35,260 174.65,261.93 176.48,263.1 176.85,265 176.7,266.81 178.11,268.23 178.1,270 178.2,272.05 179.75,273.62 179.56,275.76 180.6,277.5 181.82,278.76 181.67,280.71 183.21,281.82 183.22,283.69 184.35,285 185.1,286.58 184.72,288.45 186.13,289.87 185.58,291.78 186.99,293.19 186.85,295 186.52,296.73 187.68,298.28 187.18,300.04 188.24,301.6 187.51,303.38 188.1,305 189.07,306.53 188.49,308.44 189.67,309.92 189.42,311.75 190.7,313.2 190.6,315 190.91,316.72 192.48,317.81 192.44,319.71 194.03,320.78 194.35,322.5 194.78,324.16 196.28,325.29 196.33,327.13 197.82,328.26 198.1,330 199.35,332.5" class="st"/>
<polyline points="190.6,316.25 278.35,315.5" class="st"/>
<polyline points="309.1,258.6 371.6,259" class="st"/>
<polyline points="278.35,202.5 279,204.17 280.7,205.11 281.02,207.02 282.69,207.98 283.06,209.85 284.79,210.76 285.35,212.5 286.22,214.13 288.22,214.63 288.79,216.56 290.35,217.5 291.88,218.47 292.52,220.33 294.5,220.85 295.35,222.5 294.81,224.17 295.71,225.83 295.35,227.5 295.25,229.44 296.46,231.17 295.95,233.18 296.6,235 296.72,236.95 295.63,238.69 296.05,240.69 295.35,242.5 295.99,244.24 297.82,245.19 298.01,247.22 299.72,248.25 300.35,250 301.28,251.4 303.22,251.54 303.85,253.31 305.62,253.66 306.6,255 307.51,256.59 309.5,257.1 310.04,259.06 311.84,259.76 312.85,261.25 313.48,262.8 315.24,263.44 315.53,265.26 317.09,266.06 317.85,267.5 317.77,269.29 319.23,270.7 319.1,272.5 317.52,273.92 317,276.13 315.35,277.5 313.78,278.43 313.26,280.41 311.28,280.93 310.35,282.5 309.51,284.16 307.51,284.66 306.95,286.6 305.35,287.5 303.46,288.46 302.28,290.36 300.35,291.25 299.23,292.96 299.1,295 299.85,296.8 299.33,298.82 300.44,300.56 300.35,302.5 299.18,304.19 299.47,306.37 298.15,308.02 297.85,310 296.62,311.41 294.64,311.68 293.59,313.36 291.58,313.6 290.35,315 289.85,316.84 288.21,318.09 287.85,320 289.52,321.59 290.35,323.75 289.37,325.17 289.63,327.09 288.19,328.32 287.85,330" class="st"/>
<polyline points="278.35,315.5 282.85,317.5 287.85,320" class="st"/>
<polyline points="442.25,281.25 442.25,369.5" class="st"/>
<polyline points="93.1,500 94.72,501.63 96.85,502.5 98.93,503.44 100.6,505 102.71,504.44 104.35,503 106.39,503.34 108.1,504.5 108.66,506.08 110.25,507.05 110.6,508.75 112.35,509.74 114.35,510 116.1,510.08 117.6,511.18 119.35,511.25 121.1,511.32 122.55,512.63 124.35,512.5 126.38,512.66 128.1,513.75 130.1,513.5 131.85,512.5 133.64,512.42 135.04,513.91 136.85,513.75 136.85,516.25" class="st"/>
<polyline points="627.85,446.25 628.01,448.46 630.21,449.78 630.35,452 629.4,454.12 630.35,456.25 631.56,454.82 633.83,454.97 634.42,452.61 636.86,453.02 637.85,451.25 639.06,449.74 641.27,450.74 642.26,448.69 644.1,448.75 644.12,450.61 645.35,452" class="st"/>
<polyline points="642.85,463.75 644.73,464.31 646.6,462.83 648.48,464.29 650.35,463.75 651.34,465.27 650.59,467.23 651.6,468.75 650.91,470.56 648.67,470.82 648.29,472.94 646.6,473.75 644.66,474.04 643.54,475.97 641.6,476.25 640.4,474.38 637.88,474.26 636.6,472.5 635.08,471.5 633.09,472.38 631.6,471.25 629.85,470.65 628.1,472.22 626.35,470.28 624.6,472 622.85,471.25 624.03,472.73 626.21,472.71 626.97,474.81 629.17,474.77 630.35,476.25 630.6,478.27 633.06,478.72 632.81,481.1 635.32,481.51 634.92,484 636.6,485 638.29,485.81 639.1,487.5 637.69,488.88 637.89,491.06 636.6,492.5 634.67,492.2 633.72,494.37 631.69,493.83 630.35,495 628.68,496.24 626.29,495.31 624.98,497.65 622.85,497.5 620.68,497.24 619.36,499.53 616.92,498.45 615.35,500 614.12,501.28 612.04,500.88 611.22,502.99 609.11,502.51 607.85,503.75 607.33,505.81 604.88,506.17 604.1,508 604.09,509.75 602.55,511.03 603.31,513.02 601.18,514.11 601.6,516" class="st"/>
<polyline points="627.85,446.25 627.68,448.45 629.59,450.24 629.1,452.5 628.82,454.34 630.84,455.61 630.35,457.5" class="st"/>
<polyline points="635.35,450 637.62,450.52 639.33,448.25 641.6,448.75 643.86,448.08 645.35,446.25" class="st"/>
<polyline points="637.85,456.25 639.75,457.56 642.17,456.3 644.1,457.5 646.33,457.8 648.12,455.95 650.35,456.25" class="st"/>
<polyline points="642.85,461.25 642.88,463.32 645.31,464.19 645.35,466.25 647.16,465.56 647.85,463.75 648.39,461.55 650.89,460.82 651.6,458.75" class="st"/>
<polyline points="622.85,471.25 624.75,472.61 627.12,471.59 629.1,472.5 630.46,474.52 632.85,475 632.54,476.93 630.55,478.02 630.35,480 631.7,481.63 631.6,483.75 629.63,482.76 627.27,483.76 625.35,482.5 623.68,481.93 622.02,483.45 620.35,482.5" class="st"/>
<polyline points="634.1,486.25 635.8,487.4 637.85,487.5" class="st"/>
<circle cx="227.35" cy="140.6" r="4.3" fill="#00FFFF" class="pt"/>
<circle cx="236.1" cy="146.35" r="4.3" fill="#1E90FF" class="pt"/>
<circle cx="227.35" cy="166.35" r="4.3" fill="#00FFFF" class="pt"/>
<circle cx="249.1" cy="170.6" r="4.3" fill="#FFFF00" class="pt"/>
<circle cx="249.1" cy="178.85" r="4.3" fill="#FFFF00" class="pt"/>
<circle cx="237.85" cy="176.35" r="4.3" fill="#00FFFF" class="pt"/>
<circle cx="274.25" cy="127.6" r="4.3" fill="#CCCCCC" class="pt"/>
<circle cx="309.1" cy="176.6" r="4.3" fill="#00FFFF" class="pt"/>
<circle cx="416.1" cy="143.85" r="4.3" fill="#FFA500" class="pt"/>
<circle cx="350.35" cy="166.1" r="4.3" fill="#00FFFF" class="pt"/>
<circle cx="392.25" cy="175.7" r="4.3" fill="#FFA500" class="pt"/>
<circle cx="370.95" cy="197.35" r="4.3" fill="#FFFF00" class="pt"/>
<circle cx="380.35" cy="199.85" r="4.3" fill="#FFA500" class="pt"/>
<circle cx="359.75" cy="203.85" r="4.3" fill="#FFFF00" class="pt"/>
<circle cx="377.85" cy="209.5" r="4.3" fill="#FF0000" class="pt"/>
<circle cx="359.1" cy="222.6" r="4.3" fill="#FFFF00" class="pt"/>
<circle cx="375.35" cy="223.6" r="4.3" fill="#A020F0" class="pt"/>
<circle cx="354.75" cy="229.5" r="4.3" fill="#FFA500" class="pt"/>
<circle cx="373.45" cy="228.85" r="4.3" fill="#FFA500" class="pt"/>
<circle cx="412.6" cy="194.5" r="4.3" fill="#FFA500" class="pt"/>
<circle cx="409.45" cy="204.1" r="4.3" fill="#FFA500" class="pt"/>
<circle cx="408.45" cy="214.5" r="4.3" fill="#FFA500" class="pt"/>
<circle cx="440.75" cy="203.85" r="4.3" fill="#FFFF00" class="pt"/>
<circle cx="492.45" cy="218.2" r="4.3" fill="#FFA500" class="pt"/>
<circle cx="646.1" cy="210.6" r="4.3" fill="#FFA500" class="pt"/>
<circle cx="692.85" cy="203.2" r="4.3" fill="#FFFF00" class="pt"/>
<circle cx="694.6" cy="201.35" r="4.3" fill="#FFFF00" class="pt"/>
<circle cx="717.35" cy="197.1" r="4.3" fill="#00FFFF" class="pt"/>
<circle cx="752.85" cy="205.1" r="4.3" fill="#FFFF00" class="pt"/>
<circle cx="755.35" cy="203.85" r="4.3" fill="#1E90FF" class="pt"/>
<circle cx="764.1" cy="205.6" r="4.3" fill="#0000CD" class="pt"/>
<circle cx="668.6" cy="222.6" r="4.3" fill="#00FFFF" class="pt"/>
<circle cx="679.6" cy="230.1" r="4.3" fill="#FFFF00" class="pt"/>
<circle cx="730.35" cy="224.35" r="4.3" fill="#1E90FF" class="pt"/>
<circle cx="749.1" cy="226.35" r="4.3" fill="#00FFFF" class="pt"/>
<circle cx="763.35" cy="225.85" r="4.3" fill="#00FFFF" class="pt"/>
<circle cx="769.1" cy="223.35" r="4.3" fill="#1E90FF" class="pt"/>
<circle cx="780.35" cy="213.85" r="4.3" fill="#00FFFF" class="pt"/>
<circle cx="778.6" cy="226.35" r="4.3" fill="#FFFF00" class="pt"/>
<circle cx="618.35" cy="236.35" r="4.3" fill="#00FFFF" class="pt"/>
<circle cx="609.6" cy="239.35" r="4.3" fill="#FFA500" class="pt"/>
<circle cx="634.6" cy="235.1" r="4.3" fill="#FFFF00" class="pt"/>
<circle cx="651.6" cy="234.6" r="4.3" fill="#00FFFF" class="pt"/>
<circle cx="644.1" cy="242.1" r="4.3" fill="#FFFF00" class="pt"/>
<circle cx="650.35" cy="251.35" r="4.3" fill="#FFFF00" class="pt"/>
<circle cx="588.6" cy="237.1" r="4.3" fill="#FFA500" class="pt"/>
<circle cx="581.6" cy="243.85" r="4.3" fill="#FFA500" class="pt"/>
<circle cx="569.1" cy="258.85" r="4.3" fill="#FFA500" class="pt"/>
<circle cx="562.85" cy="265.1" r="4.3" fill="#FFA500" class="pt"/>
<circle cx="617.85" cy="271.35" r="4.3" fill="#00FFFF" class="pt"/>
<circle cx="814.1" cy="190.85" r="4.3" fill="#1E90FF" class="pt"/>
<circle cx="824.35" cy="202.1" r="4.3" fill="#FFFF00" class="pt"/>
<circle cx="839.1" cy="197.6" r="4.3" fill="#1E90FF" class="pt"/>
<circle cx="788.6" cy="205.85" r="4.3" fill="#00FFFF" class="pt"/>
<circle cx="787.35" cy="213.1" r="4.3" fill="#00FFFF" class="pt"/>
<circle cx="800.6" cy="215.85" r="4.3" fill="#FFFF00" class="pt"/>
<circle cx="748.45" cy="237.35" r="4.3" fill="#00FFFF" class="pt"/>
<circle cx="772.85" cy="233.6" r="4.3" fill="#FFA500" class="pt"/>
<circle cx="767.25" cy="242" r="4.3" fill="#FFFF00" class="pt"/>
<circle cx="699.75" cy="243.2" r="4.3" fill="#FFFF00" class="pt"/>
<circle cx="703.45" cy="250.7" r="4.3" fill="#FFFF00" class="pt"/>
<circle cx="708.85" cy="247.35" r="4.3" fill="#00FFFF" class="pt"/>
<circle cx="696.6" cy="253.2" r="4.3" fill="#FFFF00" class="pt"/>
<circle cx="710.75" cy="255.1" r="4.3" fill="#FFFF00" class="pt"/>
<circle cx="731.35" cy="245.7" r="4.3" fill="#00FFFF" class="pt"/>
<circle cx="740.35" cy="248" r="4.3" fill="#FFFF00" class="pt"/>
<circle cx="751.95" cy="248" r="4.3" fill="#FFFF00" class="pt"/>
<circle cx="748.45" cy="252.6" r="4.3" fill="#FFFF00" class="pt"/>
<circle cx="758.85" cy="250.7" r="4.3" fill="#FFFF00" class="pt"/>
<circle cx="765.35" cy="249.5" r="4.3" fill="#FFFF00" class="pt"/>
<circle cx="753.45" cy="255.5" r="4.3" fill="#FFFF00" class="pt"/>
<circle cx="749.45" cy="261.6" r="4.3" fill="#FFFF00" class="pt"/>
<circle cx="761.6" cy="259.2" r="4.3" fill="#FFA500" class="pt"/>
<circle cx="763.45" cy="264.5" r="4.3" fill="#FFFF00" class="pt"/>
<circle cx="758.85" cy="263.85" r="4.3" fill="#1E90FF" class="pt"/>
<circle cx="757.85" cy="268.2" r="4.3" fill="#FFA500" class="pt"/>
<circle cx="740.35" cy="265.7" r="4.3" fill="#FFFF00" class="pt"/>
<circle cx="746.35" cy="271" r="4.3" fill="#FFFF00" class="pt"/>
<circle cx="782.85" cy="274.5" r="4.3" fill="#FFA500" class="pt"/>
<circle cx="737.25" cy="278.85" r="4.3" fill="#FFA500" class="pt"/>
<circle cx="752.25" cy="278.85" r="4.3" fill="#FFA500" class="pt"/>
<circle cx="744.1" cy="285.7" r="4.3" fill="#FFA500" class="pt"/>
<circle cx="763.45" cy="285.1" r="4.3" fill="#FFA500" class="pt"/>
<circle cx="750.95" cy="289.5" r="4.3" fill="#FF0000" class="pt"/>
<circle cx="735.95" cy="293.6" r="4.3" fill="#FF0000" class="pt"/>
<circle cx="765.95" cy="294.5" r="4.3" fill="#FF0000" class="pt"/>
<circle cx="627.25" cy="270.7" r="4.3" fill="#FFFF00" class="pt"/>
<circle cx="680.1" cy="269.85" r="4.3" fill="#FFFF00" class="pt"/>
<circle cx="623.85" cy="284.85" r="4.3" fill="#FFFF00" class="pt"/>
<circle cx="624.1" cy="296.7" r="4.3" fill="#FFFF00" class="pt"/>
<circle cx="655.1" cy="288.85" r="4.3" fill="#FFA500" class="pt"/>
<circle cx="654.1" cy="291.1" r="4.3" fill="#FFFF00" class="pt"/>
<circle cx="644.75" cy="298.2" r="4.3" fill="#00FFFF" class="pt"/>
<circle cx="649.1" cy="296.35" r="4.3" fill="#00FFFF" class="pt"/>
<circle cx="660.95" cy="301.7" r="4.3" fill="#FFFF00" class="pt"/>
<circle cx="667.25" cy="306.35" r="4.3" fill="#FFFF00" class="pt"/>
<circle cx="662.85" cy="313.6" r="4.3" fill="#FFFF00" class="pt"/>
<circle cx="658.45" cy="316.35" r="4.3" fill="#FF0000" class="pt"/>
<circle cx="659.75" cy="317" r="4.3" fill="#FFA500" class="pt"/>
<circle cx="650.35" cy="318.85" r="4.3" fill="#FFA500" class="pt"/>
<circle cx="646.35" cy="323.2" r="4.3" fill="#FF0000" class="pt"/>
<circle cx="636.6" cy="324.5" r="4.3" fill="#FF0000" class="pt"/>
<circle cx="629.35" cy="326.6" r="4.3" fill="#FFA500" class="pt"/>
<circle cx="624.75" cy="327.6" r="4.3" fill="#FFFF00" class="pt"/>
<circle cx="675.35" cy="310.7" r="4.3" fill="#FF0000" class="pt"/>
<circle cx="672.85" cy="318.2" r="4.3" fill="#FF0000" class="pt"/>
<circle cx="667.85" cy="331.35" r="4.3" fill="#A020F0" class="pt"/>
<circle cx="671.6" cy="324.5" r="4.3" fill="#FF0000" class="pt"/>
<circle cx="675.35" cy="326.35" r="4.3" fill="#FF0000" class="pt"/>
<circle cx="660.95" cy="331.35" r="4.3" fill="#FF0000" class="pt"/>
<circle cx="664.75" cy="335.1" r="4.3" fill="#FFFF00" class="pt"/>
<circle cx="668.45" cy="333.85" r="4.3" fill="#FF0000" class="pt"/>
<circle cx="671.6" cy="331.35" r="4.3" fill="#FF0000" class="pt"/>
<circle cx="681.6" cy="332.6" r="4.3" fill="#A020F0" class="pt"/>
<circle cx="691.35" cy="326.6" r="4.3" fill="#FF0000" class="pt"/>
<circle cx="681.6" cy="320.7" r="4.3" fill="#A020F0" class="pt"/>
<circle cx="688.45" cy="317" r="4.3" fill="#A020F0" class="pt"/>
<circle cx="685.35" cy="312.6" r="4.3" fill="#FF0000" class="pt"/>
<circle cx="690.35" cy="309.5" r="4.3" fill="#FFA500" class="pt"/>
<circle cx="695.35" cy="312.6" r="4.3" fill="#FF0000" class="pt"/>
<circle cx="704.75" cy="312" r="4.3" fill="#A020F0" class="pt"/>
<circle cx="713.45" cy="310.1" r="4.3" fill="#FF0000" class="pt"/>
<circle cx="720.95" cy="306.35" r="4.3" fill="#FF0000" class="pt"/>
<circle cx="685.35" cy="302.6" r="4.3" fill="#FFA500" class="pt"/>
<circle cx="690.35" cy="298.85" r="4.3" fill="#FFA500" class="pt"/>
<circle cx="696.6" cy="303.2" r="4.3" fill="#FFA500" class="pt"/>
<circle cx="702.25" cy="305.1" r="4.3" fill="#FF0000" class="pt"/>
<circle cx="706.6" cy="300.7" r="4.3" fill="#A020F0" class="pt"/>
<circle cx="712.85" cy="300.1" r="4.3" fill="#A020F0" class="pt"/>
<circle cx="716.6" cy="295.7" r="4.3" fill="#FFA500" class="pt"/>
<circle cx="724.75" cy="296.35" r="4.3" fill="#A020F0" class="pt"/>
<circle cx="686.35" cy="288.6" r="4.3" fill="#FFFF00" class="pt"/>
<circle cx="697.85" cy="290.35" r="4.3" fill="#FFFF00" class="pt"/>
<circle cx="704.75" cy="292.35" r="4.3" fill="#A020F0" class="pt"/>
<circle cx="697.25" cy="280.5" r="4.3" fill="#FFA500" class="pt"/>
<circle cx="707.85" cy="279.5" r="4.3" fill="#FFFF00" class="pt"/>
<circle cx="722.85" cy="280.1" r="4.3" fill="#FFA500" class="pt"/>
<circle cx="722.85" cy="287.85" r="4.3" fill="#FF0000" class="pt"/>
<circle cx="727.85" cy="274.5" r="4.3" fill="#FFA500" class="pt"/>
<circle cx="724.1" cy="268.85" r="4.3" fill="#FFA500" class="pt"/>
<circle cx="725.35" cy="262" r="4.3" fill="#00FFFF" class="pt"/>
<circle cx="729.1" cy="264.5" r="4.3" fill="#FFA500" class="pt"/>
<circle cx="628.45" cy="335.1" r="4.3" fill="#FFA500" class="pt"/>
<circle cx="637.85" cy="332.6" r="4.3" fill="#FF0000" class="pt"/>
<circle cx="642.85" cy="333.85" r="4.3" fill="#FF0000" class="pt"/>
<circle cx="634.75" cy="338.85" r="4.3" fill="#FFA500" class="pt"/>
<circle cx="650.95" cy="340.1" r="4.3" fill="#FF0000" class="pt"/>
<circle cx="660.1" cy="340.1" r="4.3" fill="#FFA500" class="pt"/>
<circle cx="648.45" cy="344.85" r="4.3" fill="#A020F0" class="pt"/>
<circle cx="655.35" cy="344.5" r="4.3" fill="#FFA500" class="pt"/>
<circle cx="665.35" cy="341.35" r="4.3" fill="#A020F0" class="pt"/>
<circle cx="671.6" cy="344.5" r="4.3" fill="#A020F0" class="pt"/>
<circle cx="651.6" cy="348.85" r="4.3" fill="#FF0000" class="pt"/>
<circle cx="640.95" cy="348" r="4.3" fill="#FF0000" class="pt"/>
<circle cx="638.45" cy="353.2" r="4.3" fill="#A020F0" class="pt"/>
<circle cx="630.35" cy="350.7" r="4.3" fill="#FF0000" class="pt"/>
<circle cx="632.6" cy="355.1" r="4.3" fill="#FFA500" class="pt"/>
<circle cx="620.95" cy="352" r="4.3" fill="#FF0000" class="pt"/>
<circle cx="613.45" cy="352.6" r="4.3" fill="#FF0000" class="pt"/>
<circle cx="605.95" cy="347.6" r="4.3" fill="#FFA500" class="pt"/>
<circle cx="601.6" cy="351.35" r="4.3" fill="#FFFF00" class="pt"/>
<circle cx="650.35" cy="356.1" r="4.3" fill="#FF0000" class="pt"/>
<circle cx="667.85" cy="352.35" r="4.3" fill="#FFA500" class="pt"/>
<circle cx="681.35" cy="351.35" r="4.3" fill="#FFA500" class="pt"/>
<circle cx="655.35" cy="365.7" r="4.3" fill="#FFA500" class="pt"/>
<circle cx="664.75" cy="372" r="4.3" fill="#FF0000" class="pt"/>
<circle cx="619.1" cy="361.35" r="4.3" fill="#FFA500" class="pt"/>
<circle cx="611.35" cy="364.1" r="4.3" fill="#FFA500" class="pt"/>
<circle cx="625.95" cy="363.85" r="4.3" fill="#FF0000" class="pt"/>
<circle cx="631.6" cy="367.6" r="4.3" fill="#A020F0" class="pt"/>
<circle cx="620.95" cy="370.7" r="4.3" fill="#FF0000" class="pt"/>
<circle cx="628.45" cy="371.35" r="4.3" fill="#A020F0" class="pt"/>
<circle cx="619.1" cy="372" r="4.3" fill="#A020F0" class="pt"/>
<circle cx="607.85" cy="369.85" r="4.3" fill="#FFFF00" class="pt"/>
<circle cx="605.1" cy="381.35" r="4.3" fill="#00FFFF" class="pt"/>
<circle cx="614.1" cy="381.1" r="4.3" fill="#FFA500" class="pt"/>
<circle cx="613.75" cy="389.5" r="4.3" fill="#FFA500" class="pt"/>
<circle cx="626.6" cy="380.1" r="4.3" fill="#FF0000" class="pt"/>
<circle cx="631.6" cy="379.1" r="4.3" fill="#FF0000" class="pt"/>
<circle cx="642.85" cy="382" r="4.3" fill="#FFA500" class="pt"/>
<circle cx="654.75" cy="375.7" r="4.3" fill="#FF0000" class="pt"/>
<circle cx="613.45" cy="408.85" r="4.3" fill="#FFA500" class="pt"/>
<circle cx="617.6" cy="407" r="4.3" fill="#FFA500" class="pt"/>
<circle cx="608.85" cy="415.1" r="4.3" fill="#FFA500" class="pt"/>
<circle cx="616.6" cy="415.7" r="4.3" fill="#FFA500" class="pt"/>
<circle cx="592.6" cy="420.7" r="4.3" fill="#00FFFF" class="pt"/>
<circle cx="636.6" cy="422.35" r="4.3" fill="#FFA500" class="pt"/>
<circle cx="635.35" cy="428.85" r="4.3" fill="#FFA500" class="pt"/>
<circle cx="628.45" cy="436.1" r="4.3" fill="#FFFF00" class="pt"/>
<circle cx="384.75" cy="347.85" r="4.3" fill="#00FFFF" class="pt"/>
<circle cx="382.6" cy="350.7" r="4.3" fill="#00FFFF" class="pt"/>
<circle cx="376.6" cy="358.6" r="4.3" fill="#FFFF00" class="pt"/>
<circle cx="356.35" cy="363" r="4.3" fill="#FFFF00" class="pt"/>
<circle cx="332.6" cy="369.1" r="4.3" fill="#FF0000" class="pt"/>
<circle cx="392.25" cy="365.7" r="4.3" fill="#FF0000" class="pt"/>
<circle cx="412.85" cy="367.6" r="4.3" fill="#FFFF00" class="pt"/>
<circle cx="380.95" cy="373.2" r="4.3" fill="#FFA500" class="pt"/>
<circle cx="354.35" cy="393.2" r="4.3" fill="#FFA500" class="pt"/>
<circle cx="331.6" cy="403.85" r="4.3" fill="#FFA500" class="pt"/>
<circle cx="404.1" cy="347.6" r="4.3" fill="#FFFF00" class="pt"/>
<circle cx="411.6" cy="352" r="4.3" fill="#FFFF00" class="pt"/>
<circle cx="417.85" cy="346.35" r="4.3" fill="#FFA500" class="pt"/>
<circle cx="384.1" cy="388.85" r="4.3" fill="#FFFF00" class="pt"/>
<circle cx="377.85" cy="390.1" r="4.3" fill="#FFA500" class="pt"/>
<circle cx="374.1" cy="395.1" r="4.3" fill="#FFFF00" class="pt"/>
<circle cx="378.45" cy="393.85" r="4.3" fill="#FFA500" class="pt"/>
<circle cx="385.35" cy="395.7" r="4.3" fill="#FFA500" class="pt"/>
<circle cx="380.95" cy="399.5" r="4.3" fill="#FF0000" class="pt"/>
<circle cx="390.1" cy="402.6" r="4.3" fill="#FF0000" class="pt"/>
<circle cx="394.1" cy="397.6" r="4.3" fill="#FFA500" class="pt"/>
<circle cx="400.95" cy="392" r="4.3" fill="#FFA500" class="pt"/>
<circle cx="419.1" cy="385.7" r="4.3" fill="#FF0000" class="pt"/>
<circle cx="422.25" cy="382.6" r="4.3" fill="#FF0000" class="pt"/>
<circle cx="427.25" cy="383.2" r="4.3" fill="#A020F0" class="pt"/>
<circle cx="422.85" cy="388.85" r="4.3" fill="#A020F0" class="pt"/>
<circle cx="425.35" cy="392" r="4.3" fill="#FF0000" class="pt"/>
<circle cx="417.25" cy="393.85" r="4.3" fill="#FF0000" class="pt"/>
<circle cx="422.25" cy="397" r="4.3" fill="#FFA500" class="pt"/>
<circle cx="418.45" cy="404.5" r="4.3" fill="#FFFF00" class="pt"/>
<circle cx="436.6" cy="404.5" r="4.3" fill="#FFFF00" class="pt"/>
<circle cx="355.35" cy="422.6" r="4.3" fill="#FFA500" class="pt"/>
<circle cx="360.35" cy="420.7" r="4.3" fill="#FFA500" class="pt"/>
<circle cx="411.6" cy="421.35" r="4.3" fill="#FFA500" class="pt"/>
<circle cx="409.1" cy="424.5" r="4.3" fill="#00FFFF" class="pt"/>
<circle cx="211.35" cy="336.35" r="4.3" fill="#FFA500" class="pt"/>
<circle cx="218.1" cy="348.85" r="4.3" fill="#FF0000" class="pt"/>
<circle cx="225.6" cy="352.6" r="4.3" fill="#FF0000" class="pt"/>
<circle cx="216.85" cy="355.1" r="4.3" fill="#FF0000" class="pt"/>
<circle cx="208.1" cy="355.1" r="4.3" fill="#FFA500" class="pt"/>
<circle cx="223.1" cy="356.35" r="4.3" fill="#FFA500" class="pt"/>
<circle cx="216.35" cy="361.35" r="4.3" fill="#FFFF00" class="pt"/>
<circle cx="191.35" cy="364.35" r="4.3" fill="#FFA500" class="pt"/>
<circle cx="213.1" cy="369.6" r="4.3" fill="#FFA500" class="pt"/>
<circle cx="217.35" cy="372.6" r="4.3" fill="#FFFF00" class="pt"/>
<circle cx="97.6" cy="372.1" r="4.3" fill="#FFA500" class="pt"/>
<circle cx="213.85" cy="391.35" r="4.3" fill="#FFFF00" class="pt"/>
<circle cx="150.1" cy="398.35" r="4.3" fill="#FFA500" class="pt"/>
<circle cx="154.35" cy="404.35" r="4.3" fill="#FF0000" class="pt"/>
<circle cx="153.1" cy="411.35" r="4.3" fill="#FF0000" class="pt"/>
<circle cx="229.85" cy="404.6" r="4.3" fill="#FFA500" class="pt"/>
<circle cx="221.1" cy="418.35" r="4.3" fill="#FF0000" class="pt"/>
<circle cx="246.35" cy="418.1" r="4.3" fill="#FFFF00" class="pt"/>
<circle cx="248.85" cy="416.35" r="4.3" fill="#FFA500" class="pt"/>
<circle cx="269.35" cy="362.6" r="4.3" fill="#FFFF00" class="pt"/>
<circle cx="274.35" cy="373.85" r="4.3" fill="#FFFF00" class="pt"/>
<circle cx="161.1" cy="427.1" r="4.3" fill="#FFA500" class="pt"/>
<circle cx="211.35" cy="428.1" r="4.3" fill="#FFA500" class="pt"/>
<circle cx="248.85" cy="434.6" r="4.3" fill="#FFFF00" class="pt"/>
<circle cx="116.85" cy="451.35" r="4.3" fill="#FFA500" class="pt"/>
<circle cx="184.35" cy="445.1" r="4.3" fill="#FF0000" class="pt"/>
<circle cx="176.1" cy="453.1" r="4.3" fill="#FF0000" class="pt"/>
<circle cx="185.6" cy="450.1" r="4.3" fill="#FF0000" class="pt"/>
<circle cx="190.6" cy="452.1" r="4.3" fill="#FF0000" class="pt"/>
<circle cx="183.85" cy="458.1" r="4.3" fill="#FFA500" class="pt"/>
<circle cx="201.35" cy="448.85" r="4.3" fill="#FF0000" class="pt"/>
<circle cx="228.1" cy="450.6" r="4.3" fill="#FFA500" class="pt"/>
<circle cx="248.85" cy="461.35" r="4.3" fill="#FFFF00" class="pt"/>
<circle cx="207.6" cy="460.6" r="4.3" fill="#FFA500" class="pt"/>
<circle cx="215.1" cy="463.85" r="4.3" fill="#FFA500" class="pt"/>
<circle cx="218.6" cy="474.1" r="4.3" fill="#FFA500" class="pt"/>
<circle cx="150.6" cy="468.1" r="4.3" fill="#FF0000" class="pt"/>
<circle cx="154.35" cy="472.1" r="4.3" fill="#FF0000" class="pt"/>
<circle cx="149.35" cy="472.6" r="4.3" fill="#FF0000" class="pt"/>
<circle cx="143.6" cy="472.1" r="4.3" fill="#FFA500" class="pt"/>
<circle cx="150.6" cy="481.35" r="4.3" fill="#FFA500" class="pt"/>
<circle cx="132.6" cy="483.1" r="4.3" fill="#FFA500" class="pt"/>
<circle cx="189.35" cy="490.1" r="4.3" fill="#FFA500" class="pt"/>
<circle cx="128.6" cy="497.1" r="4.3" fill="#FFA500" class="pt"/>
<circle cx="270.6" cy="491.35" r="4.3" fill="#FFA500" class="pt"/>
<circle cx="268.85" cy="496.35" r="4.3" fill="#FFA500" class="pt"/>
<circle cx="241.85" cy="189.35" r="4.3" fill="#00FFFF" class="pt"/>
<circle cx="253.6" cy="198.85" r="4.3" fill="#00FFFF" class="pt"/>
<circle cx="188.85" cy="199.6" r="4.3" fill="#00FFFF" class="pt"/>
<circle cx="266.35" cy="213.35" r="4.3" fill="#00FFFF" class="pt"/>
<circle cx="168.35" cy="227.1" r="4.3" fill="#FFFF00" class="pt"/>
<circle cx="214.85" cy="240.1" r="4.3" fill="#FFFF00" class="pt"/>
<circle cx="166.1" cy="247.1" r="4.3" fill="#00FFFF" class="pt"/>
<circle cx="264.85" cy="251.35" r="4.3" fill="#00FFFF" class="pt"/>
<circle cx="186.1" cy="277.6" r="4.3" fill="#FFFF00" class="pt"/>
<circle cx="186.1" cy="279.35" r="4.3" fill="#FFFF00" class="pt"/>
<circle cx="238.1" cy="277.6" r="4.3" fill="#00FFFF" class="pt"/>
<circle cx="238.85" cy="286.35" r="4.3" fill="#1E90FF" class="pt"/>
<circle cx="240.1" cy="295.6" r="4.3" fill="#00FFFF" class="pt"/>
<circle cx="185.6" cy="298.1" r="4.3" fill="#1E90FF" class="pt"/>
<circle cx="185.6" cy="294.6" r="4.3" fill="#00FFFF" class="pt"/>
<circle cx="168.85" cy="305.1" r="4.3" fill="#0000CD" class="pt"/>
<circle cx="206.85" cy="305.6" r="4.3" fill="#00FFFF" class="pt"/>
<circle cx="276.85" cy="313.85" r="4.3" fill="#00FFFF" class="pt"/>
<circle cx="296.6" cy="190.1" r="4.3" fill="#00FFFF" class="pt"/>
<circle cx="328.35" cy="192.1" r="4.3" fill="#00FFFF" class="pt"/>
<circle cx="294.85" cy="220.1" r="4.3" fill="#00FFFF" class="pt"/>
<circle cx="287.85" cy="265.1" r="4.3" fill="#00FFFF" class="pt"/>
<circle cx="284.6" cy="273.85" r="4.3" fill="#00FFFF" class="pt"/>
<circle cx="285.85" cy="276.35" r="4.3" fill="#00FFFF" class="pt"/>
<circle cx="322.85" cy="265.1" r="4.3" fill="#FFFF00" class="pt"/>
<circle cx="318.6" cy="277.6" r="4.3" fill="#FFFF00" class="pt"/>
<circle cx="311.85" cy="289.6" r="4.3" fill="#1E90FF" class="pt"/>
<circle cx="311.6" cy="283.1" r="4.3" fill="#00FFFF" class="pt"/>
<circle cx="309.1" cy="288.35" r="4.3" fill="#FFFF00" class="pt"/>
<circle cx="345.85" cy="319.35" r="4.3" fill="#FFFF00" class="pt"/>
<circle cx="364.85" cy="327.1" r="4.3" fill="#FFA500" class="pt"/>
<circle cx="360.35" cy="333.1" r="4.3" fill="#FFA500" class="pt"/>
<circle cx="331.1" cy="338.85" r="4.3" fill="#FFA500" class="pt"/>
<circle cx="347.85" cy="338.85" r="4.3" fill="#FFA500" class="pt"/>
<circle cx="291.6" cy="337.1" r="4.3" fill="#FFFF00" class="pt"/>
<circle cx="402.35" cy="318.35" r="4.3" fill="#FFFF00" class="pt"/>
<circle cx="432.35" cy="325.6" r="4.3" fill="#FFFF00" class="pt"/>
<circle cx="405.35" cy="333.85" r="4.3" fill="#FFA500" class="pt"/>
<circle cx="414.1" cy="331.35" r="4.3" fill="#FFA500" class="pt"/>
<circle cx="422.85" cy="334.6" r="4.3" fill="#FFFF00" class="pt"/>
<circle cx="412.85" cy="338.85" r="4.3" fill="#FFFF00" class="pt"/>
<circle cx="330.95" cy="230.4" r="4.3" fill="#00FFFF" class="pt"/>
<circle cx="343.45" cy="234.5" r="4.3" fill="#FFFF00" class="pt"/>
<circle cx="337.85" cy="240.7" r="4.3" fill="#FFFF00" class="pt"/>
<circle cx="350.1" cy="243.6" r="4.3" fill="#FFFF00" class="pt"/>
<circle cx="363.85" cy="242.85" r="4.3" fill="#FFFF00" class="pt"/>
<circle cx="370.95" cy="234.5" r="4.3" fill="#FF0000" class="pt"/>
<circle cx="370.95" cy="238.85" r="4.3" fill="#FF0000" class="pt"/>
<circle cx="371.6" cy="243.2" r="4.3" fill="#FFA500" class="pt"/>
<circle cx="373.45" cy="252.35" r="4.3" fill="#FF0000" class="pt"/>
<circle cx="373.45" cy="259.1" r="4.3" fill="#A020F0" class="pt"/>
<circle cx="344.35" cy="257.85" r="4.3" fill="#FFFF00" class="pt"/>
<circle cx="345.1" cy="264.5" r="4.3" fill="#FFFF00" class="pt"/>
<circle cx="357.25" cy="256.35" r="4.3" fill="#FFFF00" class="pt"/>
<circle cx="363.1" cy="267.35" r="4.3" fill="#FFFF00" class="pt"/>
<circle cx="362.6" cy="272.85" r="4.3" fill="#FFFF00" class="pt"/>
<circle cx="373.45" cy="269.5" r="4.3" fill="#FFA500" class="pt"/>
<circle cx="371.6" cy="273.2" r="4.3" fill="#00FFFF" class="pt"/>
<circle cx="376.35" cy="272.35" r="4.3" fill="#FF0000" class="pt"/>
<circle cx="379.1" cy="280.1" r="4.3" fill="#FFA500" class="pt"/>
<circle cx="374.75" cy="278.85" r="4.3" fill="#FFA500" class="pt"/>
<circle cx="367.25" cy="279.85" r="4.3" fill="#FFFF00" class="pt"/>
<circle cx="369.1" cy="285.1" r="4.3" fill="#FFA500" class="pt"/>
<circle cx="374.75" cy="284.5" r="4.3" fill="#FFFF00" class="pt"/>
<circle cx="380.35" cy="285.1" r="4.3" fill="#FFFF00" class="pt"/>
<circle cx="386.6" cy="285.7" r="4.3" fill="#FFFF00" class="pt"/>
<circle cx="390.95" cy="289.1" r="4.3" fill="#00FFFF" class="pt"/>
<circle cx="394.1" cy="282" r="4.3" fill="#FF0000" class="pt"/>
<circle cx="399.1" cy="285.1" r="4.3" fill="#FFFF00" class="pt"/>
<circle cx="406.35" cy="288.2" r="4.3" fill="#00FFFF" class="pt"/>
<circle cx="407.85" cy="283.6" r="4.3" fill="#FFFF00" class="pt"/>
<circle cx="412.6" cy="282.6" r="4.3" fill="#00FFFF" class="pt"/>
<circle cx="415.1" cy="277" r="4.3" fill="#FF0000" class="pt"/>
<circle cx="419.35" cy="282.85" r="4.3" fill="#FFFF00" class="pt"/>
<circle cx="407.85" cy="235.35" r="4.3" fill="#FF0000" class="pt"/>
<circle cx="428.45" cy="238.2" r="4.3" fill="#FFA500" class="pt"/>
<circle cx="422.85" cy="244.1" r="4.3" fill="#FFA500" class="pt"/>
<circle cx="418.45" cy="247.2" r="4.3" fill="#FF0000" class="pt"/>
<circle cx="411.6" cy="250.7" r="4.3" fill="#A020F0" class="pt"/>
<circle cx="407.85" cy="268.2" r="4.3" fill="#FF0000" class="pt"/>
<circle cx="425.6" cy="265.7" r="4.3" fill="#FFA500" class="pt"/>
<circle cx="364.35" cy="297.85" r="4.3" fill="#00FFFF" class="pt"/>
<circle cx="331.6" cy="314.6" r="4.3" fill="#00FFFF" class="pt"/>
<circle cx="332.25" cy="312" r="4.3" fill="#FFFF00" class="pt"/>
<circle cx="423.1" cy="310.1" r="4.3" fill="#FFA500" class="pt"/>
<circle cx="429.35" cy="305.7" r="4.3" fill="#00FFFF" class="pt"/>
<circle cx="437.85" cy="297" r="4.3" fill="#FFFF00" class="pt"/>
<circle cx="435.95" cy="301.35" r="4.3" fill="#FFFF00" class="pt"/>
<circle cx="473.45" cy="238.6" r="4.3" fill="#FFA500" class="pt"/>
<circle cx="468.45" cy="242.35" r="4.3" fill="#FFA500" class="pt"/>
<circle cx="452.25" cy="249.2" r="4.3" fill="#FFFF00" class="pt"/>
<circle cx="448.85" cy="251.35" r="4.3" fill="#FFFF00" class="pt"/>
<circle cx="496.6" cy="245.1" r="4.3" fill="#FFA500" class="pt"/>
<circle cx="488.85" cy="251.7" r="4.3" fill="#FF0000" class="pt"/>
<circle cx="480.35" cy="259.2" r="4.3" fill="#FF0000" class="pt"/>
<circle cx="484.1" cy="257.35" r="4.3" fill="#FF0000" class="pt"/>
<circle cx="484.35" cy="260.85" r="4.3" fill="#FF0000" class="pt"/>
<circle cx="463.45" cy="261.35" r="4.3" fill="#FFA500" class="pt"/>
<circle cx="470.35" cy="266.7" r="4.3" fill="#FFA500" class="pt"/>
<circle cx="479.35" cy="267.35" r="4.3" fill="#FFA500" class="pt"/>
<circle cx="462.25" cy="274" r="4.3" fill="#FFA500" class="pt"/>
<circle cx="470.95" cy="283.85" r="4.3" fill="#FFFF00" class="pt"/>
<circle cx="467.25" cy="288.6" r="4.3" fill="#FFFF00" class="pt"/>
<circle cx="476.95" cy="283.85" r="4.3" fill="#FFA500" class="pt"/>
<circle cx="470.1" cy="293.2" r="4.3" fill="#FFA500" class="pt"/>
<circle cx="459.75" cy="310.5" r="4.3" fill="#FFA500" class="pt"/>
<circle cx="504.75" cy="291.7" r="4.3" fill="#FFA500" class="pt"/>
<circle cx="510.95" cy="293.6" r="4.3" fill="#FFFF00" class="pt"/>
<circle cx="514.1" cy="289.85" r="4.3" fill="#FFFF00" class="pt"/>
<circle cx="519.1" cy="284.2" r="4.3" fill="#FF0000" class="pt"/>
<circle cx="517.85" cy="287.35" r="4.3" fill="#FF0000" class="pt"/>
<circle cx="524.35" cy="282.6" r="4.3" fill="#FFA500" class="pt"/>
<circle cx="524.35" cy="289.2" r="4.3" fill="#FFA500" class="pt"/>
<circle cx="540.1" cy="275.5" r="4.3" fill="#FF0000" class="pt"/>
<circle cx="550.95" cy="269.6" r="4.3" fill="#FFA500" class="pt"/>
<circle cx="508.85" cy="302.6" r="4.3" fill="#FFFF00" class="pt"/>
<circle cx="518.85" cy="301.1" r="4.3" fill="#FFA500" class="pt"/>
<circle cx="516.6" cy="313.2" r="4.3" fill="#FFA500" class="pt"/>
<circle cx="482.6" cy="323.85" r="4.3" fill="#FFA500" class="pt"/>
<circle cx="491.35" cy="325.1" r="4.3" fill="#FFA500" class="pt"/>
<circle cx="485.35" cy="332" r="4.3" fill="#FFA500" class="pt"/>
<circle cx="490.35" cy="332.85" r="4.3" fill="#FF0000" class="pt"/>
<circle cx="497.25" cy="334.1" r="4.3" fill="#FFA500" class="pt"/>
<circle cx="485.35" cy="336.35" r="4.3" fill="#FFA500" class="pt"/>
<circle cx="458.45" cy="332" r="4.3" fill="#FFA500" class="pt"/>
<circle cx="465.95" cy="334.5" r="4.3" fill="#FFA500" class="pt"/>
<circle cx="462.85" cy="338.2" r="4.3" fill="#FFA500" class="pt"/>
<circle cx="473.1" cy="341.35" r="4.3" fill="#FFA500" class="pt"/>
<circle cx="478.1" cy="346.1" r="4.3" fill="#FFA500" class="pt"/>
<circle cx="444.75" cy="339.85" r="4.3" fill="#FFA500" class="pt"/>
<circle cx="458.1" cy="341.6" r="4.3" fill="#FF0000" class="pt"/>
<circle cx="462.85" cy="345.1" r="4.3" fill="#FFA500" class="pt"/>
<circle cx="444.1" cy="348.85" r="4.3" fill="#FF0000" class="pt"/>
<circle cx="451.6" cy="348.2" r="4.3" fill="#FF0000" class="pt"/>
<circle cx="456.35" cy="352.35" r="4.3" fill="#FF0000" class="pt"/>
<circle cx="465.95" cy="352.35" r="4.3" fill="#FF0000" class="pt"/>
<circle cx="452.25" cy="357.6" r="4.3" fill="#A020F0" class="pt"/>
<circle cx="445.35" cy="358.2" r="4.3" fill="#FF0000" class="pt"/>
<circle cx="449.75" cy="361.35" r="4.3" fill="#FF0000" class="pt"/>
<circle cx="457.85" cy="362.6" r="4.3" fill="#FF0000" class="pt"/>
<circle cx="450.35" cy="365.1" r="4.3" fill="#FF0000" class="pt"/>
<circle cx="442.25" cy="367.6" r="4.3" fill="#FFFF00" class="pt"/>
<circle cx="504.75" cy="355.7" r="4.3" fill="#FFFF00" class="pt"/>
<circle cx="519.75" cy="351.35" r="4.3" fill="#FFA500" class="pt"/>
<circle cx="517.25" cy="355.7" r="4.3" fill="#FFFF00" class="pt"/>
<circle cx="497.25" cy="375.7" r="4.3" fill="#00FFFF" class="pt"/>
<circle cx="489.75" cy="378.2" r="4.3" fill="#FFFF00" class="pt"/>
<circle cx="492.25" cy="380.1" r="4.3" fill="#FFFF00" class="pt"/>
<circle cx="497.25" cy="382" r="4.3" fill="#FFFF00" class="pt"/>
<circle cx="515.95" cy="383.85" r="4.3" fill="#FFA500" class="pt"/>
<circle cx="523.45" cy="298.85" r="4.3" fill="#FFFF00" class="pt"/>
<circle cx="527.25" cy="306.6" r="4.3" fill="#FFA500" class="pt"/>
<circle cx="521.6" cy="310.1" r="4.3" fill="#FF0000" class="pt"/>
<circle cx="539.75" cy="291.35" r="4.3" fill="#FFA500" class="pt"/>
<circle cx="537.25" cy="297.6" r="4.3" fill="#FF0000" class="pt"/>
<circle cx="542.25" cy="297.85" r="4.3" fill="#FF0000" class="pt"/>
<circle cx="537.85" cy="302.6" r="4.3" fill="#FFFF00" class="pt"/>
<circle cx="545.35" cy="304.5" r="4.3" fill="#FFA500" class="pt"/>
<circle cx="545.95" cy="312.35" r="4.3" fill="#FFA500" class="pt"/>
<circle cx="539.1" cy="315.7" r="4.3" fill="#FFFF00" class="pt"/>
<circle cx="539.75" cy="322" r="4.3" fill="#FFA500" class="pt"/>
<circle cx="545.35" cy="321.35" r="4.3" fill="#FFFF00" class="pt"/>
<circle cx="550.35" cy="323.2" r="4.3" fill="#FFA500" class="pt"/>
<circle cx="553.45" cy="321.1" r="4.3" fill="#FFA500" class="pt"/>
<circle cx="559.75" cy="321.35" r="4.3" fill="#FFA500" class="pt"/>
<circle cx="564.1" cy="325.7" r="4.3" fill="#FFA500" class="pt"/>
<circle cx="537.85" cy="323.85" r="4.3" fill="#FFFF00" class="pt"/>
<circle cx="547.25" cy="329.85" r="4.3" fill="#FFFF00" class="pt"/>
<circle cx="555.35" cy="330.35" r="4.3" fill="#FFFF00" class="pt"/>
<circle cx="537.25" cy="331.35" r="4.3" fill="#FFA500" class="pt"/>
<circle cx="570.35" cy="335.35" r="4.3" fill="#00FFFF" class="pt"/>
<circle cx="563.45" cy="309.85" r="4.3" fill="#FFA500" class="pt"/>
<circle cx="559.75" cy="315.7" r="4.3" fill="#FF0000" class="pt"/>
<circle cx="577.85" cy="317.35" r="4.3" fill="#FFA500" class="pt"/>
<circle cx="578.1" cy="325.7" r="4.3" fill="#FFFF00" class="pt"/>
<circle cx="590.75" cy="318.6" r="4.3" fill="#FFA500" class="pt"/>
<circle cx="587.25" cy="301.1" r="4.3" fill="#FFA500" class="pt"/>
<circle cx="602.25" cy="309.5" r="4.3" fill="#FFA500" class="pt"/>
<circle cx="600.95" cy="313.2" r="4.3" fill="#FFA500" class="pt"/>
<circle cx="618.45" cy="320.7" r="4.3" fill="#FFFF00" class="pt"/>
<circle cx="611.6" cy="336.1" r="4.3" fill="#FFFF00" class="pt"/>
<circle cx="575.95" cy="343.85" r="4.3" fill="#FFA500" class="pt"/>
<circle cx="547.25" cy="340.35" r="4.3" fill="#FFFF00" class="pt"/>
<circle cx="555.1" cy="345.35" r="4.3" fill="#FFFF00" class="pt"/>
<circle cx="533.85" cy="368.85" r="4.3" fill="#1E90FF" class="pt"/>
<circle cx="597.25" cy="357" r="4.3" fill="#FFFF00" class="pt"/>
<circle cx="587.85" cy="374.5" r="4.3" fill="#FFFF00" class="pt"/>
<circle cx="281.6" cy="350.7" r="4.3" fill="#FFFF00" class="pt"/>
<circle cx="327.25" cy="353.2" r="4.3" fill="#FFA500" class="pt"/>
<circle cx="302.85" cy="363.85" r="4.3" fill="#FF0000" class="pt"/>
<circle cx="315.6" cy="361.35" r="4.3" fill="#FF0000" class="pt"/>
<circle cx="312.25" cy="367.6" r="4.3" fill="#FF0000" class="pt"/>
<circle cx="321.6" cy="369.5" r="4.3" fill="#FF0000" class="pt"/>
<circle cx="310.95" cy="373.85" r="4.3" fill="#FF0000" class="pt"/>
<circle cx="324.75" cy="373.85" r="4.3" fill="#FF0000" class="pt"/>
<circle cx="319.1" cy="368.2" r="4.3" fill="#A020F0" class="pt"/>
<circle cx="320.35" cy="378.2" r="4.3" fill="#FFA500" class="pt"/>
<circle cx="318.45" cy="375.7" r="4.3" fill="#FFA500" class="pt"/>
<circle cx="306.6" cy="380.7" r="4.3" fill="#FFA500" class="pt"/>
<circle cx="314.1" cy="382.6" r="4.3" fill="#FF0000" class="pt"/>
<circle cx="327.6" cy="390.1" r="4.3" fill="#FFFF00" class="pt"/>
<circle cx="312.85" cy="398.6" r="4.3" fill="#FFA500" class="pt"/>
<circle cx="215.6" cy="502.6" r="4.3" fill="#FFFF00" class="pt"/>
<circle cx="227.35" cy="503.1" r="4.3" fill="#FFA500" class="pt"/>
<circle cx="372.35" cy="432.6" r="4.3" fill="#FFFF00" class="pt"/>
<circle cx="384.6" cy="428.35" r="4.3" fill="#FFFF00" class="pt"/>
<circle cx="401.85" cy="434.6" r="4.3" fill="#FFFF00" class="pt"/>
<circle cx="401.85" cy="442.6" r="4.3" fill="#FFA500" class="pt"/>
<circle cx="399.85" cy="447.6" r="4.3" fill="#FF0000" class="pt"/>
<circle cx="397.35" cy="450.1" r="4.3" fill="#FFFF00" class="pt"/>
<circle cx="401.1" cy="452.6" r="4.3" fill="#FFFF00" class="pt"/>
<circle cx="408.35" cy="454.35" r="4.3" fill="#FFA500" class="pt"/>
<circle cx="388.85" cy="457.6" r="4.3" fill="#FFFF00" class="pt"/>
<circle cx="401.6" cy="464.6" r="4.3" fill="#FFFF00" class="pt"/>
<circle cx="317.85" cy="480.6" r="4.3" fill="#FF0000" class="pt"/>
<circle cx="321.6" cy="480.1" r="4.3" fill="#FF0000" class="pt"/>
<circle cx="326.6" cy="482.1" r="4.3" fill="#FF0000" class="pt"/>
<circle cx="326.6" cy="475.1" r="4.3" fill="#FFA500" class="pt"/>
<circle cx="322.85" cy="492.1" r="4.3" fill="#FFA500" class="pt"/>
<circle cx="327.35" cy="516.85" r="4.3" fill="#00FFFF" class="pt"/>
<circle cx="351.6" cy="508.85" r="4.3" fill="#00FFFF" class="pt"/>
<circle cx="377.35" cy="493.85" r="4.3" fill="#00FFFF" class="pt"/>
<circle cx="392.85" cy="500.85" r="4.3" fill="#FFFF00" class="pt"/>
<circle cx="401.6" cy="495.85" r="4.3" fill="#FFFF00" class="pt"/>
<circle cx="415.85" cy="508.35" r="4.3" fill="#FFFF00" class="pt"/>
<circle cx="429.1" cy="502.6" r="4.3" fill="#FFFF00" class="pt"/>
<circle cx="433.35" cy="479.6" r="4.3" fill="#FFA500" class="pt"/>
<circle cx="439.6" cy="478.1" r="4.3" fill="#FFA500" class="pt"/>
<circle cx="434.1" cy="483.35" r="4.3" fill="#FFA500" class="pt"/>
<circle cx="446.6" cy="493.1" r="4.3" fill="#FFFF00" class="pt"/>
<circle cx="446.6" cy="515.85" r="4.3" fill="#FF0000" class="pt"/>
<circle cx="446.85" cy="423.1" r="4.3" fill="#FFFF00" class="pt"/>
<circle cx="484.1" cy="388.2" r="4.3" fill="#FFFF00" class="pt"/>
<circle cx="449.75" cy="392.6" r="4.3" fill="#FFA500" class="pt"/>
<circle cx="447.6" cy="398.85" r="4.3" fill="#FFFF00" class="pt"/>
<circle cx="538.85" cy="398.2" r="4.3" fill="#00FFFF" class="pt"/>
<circle cx="494.75" cy="411.1" r="4.3" fill="#00FFFF" class="pt"/>
<circle cx="479.35" cy="417.35" r="4.3" fill="#00FFFF" class="pt"/>
<circle cx="540.35" cy="416.1" r="4.3" fill="#00FFFF" class="pt"/>
<circle cx="524.35" cy="428.85" r="4.3" fill="#00FFFF" class="pt"/>
<circle cx="466.95" cy="437.35" r="4.3" fill="#00FFFF" class="pt"/>
<circle cx="464.95" cy="442" r="4.3" fill="#00FFFF" class="pt"/>
<circle cx="497.25" cy="440.1" r="4.3" fill="#FFA500" class="pt"/>
<circle cx="496.25" cy="438.6" r="4.3" fill="#FFFF00" class="pt"/>
<circle cx="505.95" cy="453.2" r="4.3" fill="#00FFFF" class="pt"/>
<circle cx="508.85" cy="457.6" r="4.3" fill="#00FFFF" class="pt"/>
<circle cx="517.85" cy="458.2" r="4.3" fill="#FFFF00" class="pt"/>
<circle cx="525.95" cy="458.6" r="4.3" fill="#FFFF00" class="pt"/>
<circle cx="500.95" cy="462.85" r="4.3" fill="#FFFF00" class="pt"/>
<circle cx="455.95" cy="457" r="4.3" fill="#FFFF00" class="pt"/>
<circle cx="464.1" cy="455.7" r="4.3" fill="#FFA500" class="pt"/>
<circle cx="467.25" cy="453.2" r="4.3" fill="#FFA500" class="pt"/>
<circle cx="470.35" cy="452.6" r="4.3" fill="#FFA500" class="pt"/>
<circle cx="452.85" cy="463.85" r="4.3" fill="#FFA500" class="pt"/>
<circle cx="470.35" cy="464.5" r="4.3" fill="#FFA500" class="pt"/>
<circle cx="547.85" cy="449.5" r="4.3" fill="#FFFF00" class="pt"/>
<circle cx="545.35" cy="455.1" r="4.3" fill="#FFA500" class="pt"/>
<circle cx="549.1" cy="453.85" r="4.3" fill="#FFA500" class="pt"/>
<circle cx="540.35" cy="458.85" r="4.3" fill="#FFA500" class="pt"/>
<circle cx="461.6" cy="467.35" r="4.3" fill="#FF0000" class="pt"/>
<circle cx="465.35" cy="468.6" r="4.3" fill="#FFFF00" class="pt"/>
<circle cx="474.1" cy="474.2" r="4.3" fill="#1E90FF" class="pt"/>
<circle cx="472.6" cy="469.85" r="4.3" fill="#FFA500" class="pt"/>
<circle cx="479.75" cy="470.5" r="4.3" fill="#FFFF00" class="pt"/>
<circle cx="483.45" cy="468.6" r="4.3" fill="#FFFF00" class="pt"/>
<circle cx="485.95" cy="471.7" r="4.3" fill="#00FFFF" class="pt"/>
<circle cx="493.45" cy="471.35" r="4.3" fill="#FFFF00" class="pt"/>
<circle cx="465.95" cy="478.6" r="4.3" fill="#FFFF00" class="pt"/>
<circle cx="474.35" cy="484.6" r="4.3" fill="#00FFFF" class="pt"/>
<circle cx="478.85" cy="492.35" r="4.3" fill="#00FFFF" class="pt"/>
<circle cx="498.45" cy="484.85" r="4.3" fill="#00FFFF" class="pt"/>
<circle cx="505.35" cy="487.1" r="4.3" fill="#FFA500" class="pt"/>
<circle cx="511.6" cy="482.35" r="4.3" fill="#FFFF00" class="pt"/>
<circle cx="487.6" cy="496.7" r="4.3" fill="#FFFF00" class="pt"/>
<circle cx="494.95" cy="498" r="4.3" fill="#FFFF00" class="pt"/>
<circle cx="501.35" cy="494.2" r="4.3" fill="#FFFF00" class="pt"/>
<circle cx="498.1" cy="506.7" r="4.3" fill="#00FFFF" class="pt"/>
<circle cx="523.45" cy="473" r="4.3" fill="#FFA500" class="pt"/>
<circle cx="537.6" cy="470.5" r="4.3" fill="#FFA500" class="pt"/>
<circle cx="544.1" cy="469.85" r="4.3" fill="#FFA500" class="pt"/>
<circle cx="536.6" cy="477.35" r="4.3" fill="#FF0000" class="pt"/>
<circle cx="532.25" cy="483.6" r="4.3" fill="#FFA500" class="pt"/>
<circle cx="540.95" cy="487.35" r="4.3" fill="#FFA500" class="pt"/>
<circle cx="524.75" cy="488.6" r="4.3" fill="#00FFFF" class="pt"/>
<circle cx="549.1" cy="498" r="4.3" fill="#00FFFF" class="pt"/>
<circle cx="530.35" cy="514.2" r="4.3" fill="#FFFF00" class="pt"/>
<circle cx="533.1" cy="513" r="4.3" fill="#FFA500" class="pt"/>
<circle cx="580.35" cy="381" r="4.3" fill="#FFFF00" class="pt"/>
<circle cx="589.45" cy="380.7" r="4.3" fill="#FFFF00" class="pt"/>
<circle cx="587.85" cy="393.2" r="4.3" fill="#FFFF00" class="pt"/>
<circle cx="564.75" cy="406.6" r="4.3" fill="#00FFFF" class="pt"/>
<circle cx="555.6" cy="417.2" r="4.3" fill="#FFFF00" class="pt"/>
<circle cx="556.35" cy="447" r="4.3" fill="#FFA500" class="pt"/>
<circle cx="565.35" cy="447.35" r="4.3" fill="#FFFF00" class="pt"/>
<circle cx="573.85" cy="447.35" r="4.3" fill="#FFA500" class="pt"/>
<circle cx="581.6" cy="452" r="4.3" fill="#FFA500" class="pt"/>
<circle cx="589.1" cy="453.2" r="4.3" fill="#FFFF00" class="pt"/>
<circle cx="578.45" cy="455.7" r="4.3" fill="#FFFF00" class="pt"/>
<circle cx="586.35" cy="460.7" r="4.3" fill="#FFFF00" class="pt"/>
<circle cx="557.85" cy="453.2" r="4.3" fill="#FFA500" class="pt"/>
<circle cx="572.6" cy="462.6" r="4.3" fill="#00FFFF" class="pt"/>
<circle cx="608.85" cy="456.35" r="4.3" fill="#FFFF00" class="pt"/>
<circle cx="624.35" cy="461.35" r="4.3" fill="#FFFF00" class="pt"/>
<circle cx="580.95" cy="468.6" r="4.3" fill="#FFA500" class="pt"/>
<circle cx="588.85" cy="468.6" r="4.3" fill="#FFA500" class="pt"/>
<circle cx="557.25" cy="478.6" r="4.3" fill="#FFFF00" class="pt"/>
<circle cx="576.6" cy="486.7" r="4.3" fill="#FFA500" class="pt"/>
<circle cx="582.85" cy="481.7" r="4.3" fill="#FFFF00" class="pt"/>
<circle cx="559.1" cy="508.35" r="4.3" fill="#FFFF00" class="pt"/>
<circle cx="614.1" cy="467.35" r="4.3" fill="#FFFF00" class="pt"/>
<circle cx="609.35" cy="479.6" r="4.3" fill="#FFFF00" class="pt"/>
<circle cx="602.85" cy="505.35" r="4.3" fill="#00FFFF" class="pt"/>
<rect x="54.5" y="7.0" width="836.0" height="534.0" fill="none" stroke="#333" stroke-width="1.1"/>
<line x1="92.1" y1="541.0" x2="92.1" y2="544.6" stroke="#333" stroke-width="1.1"/>
<text x="92.1" y="556.5" class="tk" text-anchor="middle">-100</text>
<line x1="322.5" y1="541.0" x2="322.5" y2="544.6" stroke="#333" stroke-width="1.1"/>
<text x="322.5" y="556.5" class="tk" text-anchor="middle">-90</text>
<line x1="552.9" y1="541.0" x2="552.9" y2="544.6" stroke="#333" stroke-width="1.1"/>
<text x="552.9" y="556.5" class="tk" text-anchor="middle">-80</text>
<line x1="783.3" y1="541.0" x2="783.3" y2="544.6" stroke="#333" stroke-width="1.1"/>
<text x="783.3" y="556.5" class="tk" text-anchor="middle">-70</text>
<line x1="50.9" y1="486.75" x2="54.5" y2="486.75" stroke="#333" stroke-width="1.1"/>
<text x="48" y="490.75" class="tk" text-anchor="end">35</text>
<line x1="50.9" y1="334.9" x2="54.5" y2="334.9" stroke="#333" stroke-width="1.1"/>
<text x="48" y="338.9" class="tk" text-anchor="end">40</text>
<line x1="50.9" y1="183.05" x2="54.5" y2="183.05" stroke="#333" stroke-width="1.1"/>
<text x="48" y="187.05" class="tk" text-anchor="end">45</text>
<line x1="50.9" y1="31.2" x2="54.5" y2="31.2" stroke="#333" stroke-width="1.1"/>
<text x="48" y="35.2" class="tk" text-anchor="end">50</text>
<text x="472.5" y="589.6" class="ti" text-anchor="middle">Longitude, <tspan dy="-6.8" font-size="10.3">o</tspan><tspan dy="6.8">W</tspan></text>
<text transform="translate(18.3,274) rotate(-90)" class="ti" text-anchor="middle">Latitude, <tspan dy="-6.8" font-size="10.3">o</tspan><tspan dy="6.8">N</tspan></text>
<text x="142.5" y="653.3" class="lt">O3 DV_avrg: 2009-2013</text>
<circle cx="343.75" cy="640.2" r="5.6" fill="#CCCCCC" class="pt"/>
<text x="343.75" y="681.3" class="ll" text-anchor="middle">&lt;=50</text>
<circle cx="397.75" cy="640.2" r="5.6" fill="#0000CD" class="pt"/>
<text x="397.75" y="681.3" class="ll" text-anchor="middle">51-55</text>
<circle cx="451.75" cy="640.2" r="5.6" fill="#1E90FF" class="pt"/>
<text x="451.75" y="681.3" class="ll" text-anchor="middle">56-60</text>
<circle cx="505.75" cy="640.2" r="5.6" fill="#00FFFF" class="pt"/>
<text x="505.75" y="681.3" class="ll" text-anchor="middle">61-65</text>
<circle cx="559.75" cy="640.2" r="5.6" fill="#FFFF00" class="pt"/>
<text x="559.75" y="681.3" class="ll" text-anchor="middle">66-70</text>
<circle cx="613.75" cy="640.2" r="5.6" fill="#FFA500" class="pt"/>
<text x="613.75" y="681.3" class="ll" text-anchor="middle">71-75</text>
<circle cx="667.75" cy="640.2" r="5.6" fill="#FF0000" class="pt"/>
<text x="667.75" y="681.3" class="ll" text-anchor="middle">76-80</text>
<circle cx="721.75" cy="640.2" r="5.6" fill="#A020F0" class="pt"/>
<text x="721.75" y="681.3" class="ll" text-anchor="middle">81-85</text>
<circle cx="775.75" cy="640.2" r="5.6" fill="#7D26CD" class="pt"/>
<text x="775.75" y="681.3" class="ll" text-anchor="middle">&gt;=86</text>
</svg>
</body></html>
